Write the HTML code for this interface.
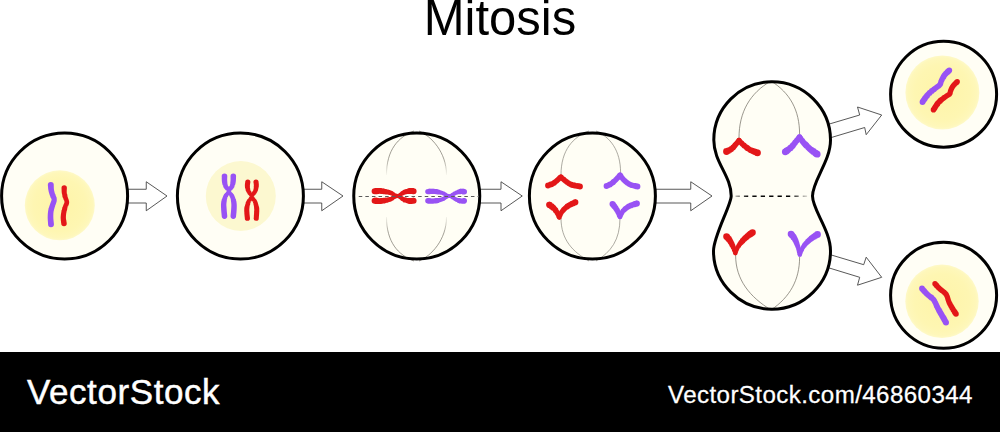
<!DOCTYPE html>
<html><head><meta charset="utf-8">
<style>
html,body{margin:0;padding:0;background:#fff;width:1000px;height:432px;overflow:hidden}
svg{display:block;position:absolute;left:0;top:0}
</style></head>
<body>
<svg width="1000" height="432" viewBox="0 0 1000 432">
<defs>
<linearGradient id="gt" gradientUnits="userSpaceOnUse" x1="0" y1="134" x2="0" y2="176">
<stop offset="0" stop-color="#6e6a60" stop-opacity="1"/><stop offset="0.6" stop-color="#6e6a60" stop-opacity="0.9"/><stop offset="1" stop-color="#6e6a60" stop-opacity="0"/>
</linearGradient>
<linearGradient id="gb" gradientUnits="userSpaceOnUse" x1="0" y1="258" x2="0" y2="215">
<stop offset="0" stop-color="#6e6a60" stop-opacity="1"/><stop offset="0.6" stop-color="#6e6a60" stop-opacity="0.9"/><stop offset="1" stop-color="#6e6a60" stop-opacity="0"/>
</linearGradient>
<radialGradient id="nuc">
<stop offset="0" stop-color="#fef4a8"/><stop offset="0.75" stop-color="#fef6b2"/><stop offset="0.93" stop-color="#fef7ba"/><stop offset="1" stop-color="#fef9c8"/>
</radialGradient>
<linearGradient id="gd" gradientUnits="userSpaceOnUse" x1="735" y1="0" x2="807" y2="0">
<stop offset="0" stop-color="#000" stop-opacity="0.25"/><stop offset="0.18" stop-color="#000" stop-opacity="0.95"/><stop offset="0.75" stop-color="#000" stop-opacity="1"/><stop offset="1" stop-color="#000" stop-opacity="0.15"/>
</linearGradient>
</defs>
<!-- title -->
<text transform="translate(0 34.7) scale(1 1.03)" x="500" y="0" text-anchor="middle" font-family="'Liberation Sans', sans-serif" font-size="49" fill="#000">Mitosis</text>

<!-- arrows -->
<g fill="#fff" stroke="#3a3a3a" stroke-width="0.85" stroke-linejoin="miter">
<path d="M125,189.25 H146.25 V181.75 L167,196 L146.25,210.75 V203 H125 Z"/>
<path d="M300,189.25 H321.75 V181.75 L343,196 L321.75,210.75 V203 H300 Z"/>
<path d="M478,189.25 H501 V181.75 L522.25,196 L501,210.75 V203 H478 Z"/>
<path d="M652,189.25 H690.75 V181.75 L712,196 L690.75,210.75 V203 H652 Z"/>
<path d="M826,125 L859.7,115 L857.5,107 L881.7,115 L866.2,134.7 L864.7,127.5 L828,138.5 Z"/>
<path d="M828,254 L863.7,264.7 L866.2,257.2 L881.7,277.3 L857.5,285.2 L859.7,277.3 L826,267 Z"/>
</g>

<!-- cell fills -->
<g stroke="none" fill="#fffef5">
<circle cx="64.6" cy="196" r="63"/>
<circle cx="240.4" cy="196" r="63"/>
<circle cx="416.75" cy="196" r="63"/>
<circle cx="592.4" cy="196" r="63"/>
<circle cx="943.6" cy="94.2" r="53"/>
<circle cx="943.6" cy="295.3" r="53"/>
<path d="M772,81.8 C804,81.8 830.5,108 830.5,140 C830.5,161.5 812.5,180.5 812.5,196 C812.5,210 830.5,230 830.5,251 C830.5,283 804,309.2 772,309.2 C740,309.2 713.5,283 713.5,251 C713.5,236 731.2,205 731.2,196 C731.2,175.5 713.8,162.5 713.8,140 C713.8,108 740,81.8 772,81.8 Z"/>
</g>

<!-- nuclei -->
<g fill="url(#nuc)">
<circle cx="59.8" cy="205.3" r="35"/>
<circle cx="240.8" cy="196" r="35" fill="#fcf8d0"/>
<circle cx="942.4" cy="92.5" r="37"/>
<circle cx="942" cy="301.3" r="36.7"/>
</g>

<!-- spindles -->
<g fill="none" stroke-width="0.7">
<path stroke="url(#gt)" d="M414,131 C398,137 386.5,150 386.5,175 M419,131 C431,136 446.5,152 446.5,175"/>
<path stroke="url(#gb)" d="M414,261 C398,255 386.5,242 386.5,217 M419,261 C431,256 446.5,240 446.5,217"/>
</g>
<g fill="none" stroke="#8a867e" stroke-width="0.7">
<path d="M589,131 C573,137 561,150 561,175 M596,131 C610,137 620.6,150 620.6,173"/>
<path d="M561,218 C561,240 573,252 589,261 M620,218 C620,240 611,252 596,261"/>
</g>
<g fill="none" stroke="#6e6a60" stroke-width="0.7">
<path d="M771,81 C750,93 739,112 739,138 M771,81 C790,93 799.6,110 799.6,134.5"/>
<path d="M735.6,255 C735.6,280 750,297 771,310 M799.6,257 C799.6,280 790,297 771,310"/>
</g>

<!-- cell strokes -->
<g stroke="#000" stroke-width="3" fill="none">
<circle cx="64.6" cy="196" r="63"/>
<circle cx="240.4" cy="196" r="63"/>
<circle cx="416.75" cy="196" r="63"/>
<circle cx="592.4" cy="196" r="63"/>
<circle cx="943.6" cy="94.2" r="53"/>
<circle cx="943.6" cy="295.3" r="53"/>
<path d="M772,81.8 C804,81.8 830.5,108 830.5,140 C830.5,161.5 812.5,180.5 812.5,196 C812.5,210 830.5,230 830.5,251 C830.5,283 804,309.2 772,309.2 C740,309.2 713.5,283 713.5,251 C713.5,236 731.2,205 731.2,196 C731.2,175.5 713.8,162.5 713.8,140 C713.8,108 740,81.8 772,81.8 Z"/>
</g>

<!-- dashed lines -->

<path fill="#9852f4" d="M47.80 185.00a3.00 3.00 0 1 0 6.00 0a3.00 3.00 0 1 0 -6.00 0M47.86 185.46a2.97 2.97 0 1 0 5.94 0a2.97 2.97 0 1 0 -5.94 0M47.92 186.08a2.94 2.94 0 1 0 5.89 0a2.94 2.94 0 1 0 -5.89 0M47.99 186.82a2.91 2.91 0 1 0 5.83 0a2.91 2.91 0 1 0 -5.83 0M48.07 187.63a2.89 2.89 0 1 0 5.77 0a2.89 2.89 0 1 0 -5.77 0M48.16 188.46a2.86 2.86 0 1 0 5.71 0a2.86 2.86 0 1 0 -5.71 0M48.27 189.27a2.83 2.83 0 1 0 5.66 0a2.83 2.83 0 1 0 -5.66 0M48.40 190.00a2.80 2.80 0 1 0 5.60 0a2.80 2.80 0 1 0 -5.60 0M48.57 190.77a2.77 2.77 0 1 0 5.55 0a2.77 2.77 0 1 0 -5.55 0M48.77 191.52a2.75 2.75 0 1 0 5.50 0a2.75 2.75 0 1 0 -5.50 0M48.99 192.25a2.72 2.72 0 1 0 5.45 0a2.72 2.72 0 1 0 -5.45 0M49.23 192.98a2.70 2.70 0 1 0 5.40 0a2.70 2.70 0 1 0 -5.40 0M49.48 193.73a2.67 2.67 0 1 0 5.35 0a2.67 2.67 0 1 0 -5.35 0M49.75 194.50a2.65 2.65 0 1 0 5.30 0a2.65 2.65 0 1 0 -5.30 0M50.01 195.18a2.64 2.64 0 1 0 5.29 0a2.64 2.64 0 1 0 -5.29 0M50.33 195.88a2.64 2.64 0 1 0 5.27 0a2.64 2.64 0 1 0 -5.27 0M50.68 196.58a2.63 2.63 0 1 0 5.26 0a2.63 2.63 0 1 0 -5.26 0M51.01 197.30a2.62 2.62 0 1 0 5.24 0a2.62 2.62 0 1 0 -5.24 0M51.30 198.02a2.61 2.61 0 1 0 5.23 0a2.61 2.61 0 1 0 -5.23 0M51.51 198.76a2.61 2.61 0 1 0 5.21 0a2.61 2.61 0 1 0 -5.21 0M51.60 199.50a2.60 2.60 0 1 0 5.20 0a2.60 2.60 0 1 0 -5.20 0M51.56 200.16a2.61 2.61 0 1 0 5.21 0a2.61 2.61 0 1 0 -5.21 0M51.43 200.84a2.61 2.61 0 1 0 5.22 0a2.61 2.61 0 1 0 -5.22 0M51.23 201.53a2.62 2.62 0 1 0 5.24 0a2.62 2.62 0 1 0 -5.24 0M50.99 202.22a2.62 2.62 0 1 0 5.25 0a2.62 2.62 0 1 0 -5.25 0M50.72 202.92a2.63 2.63 0 1 0 5.26 0a2.63 2.63 0 1 0 -5.26 0M50.44 203.61a2.64 2.64 0 1 0 5.28 0a2.64 2.64 0 1 0 -5.28 0M50.18 204.31a2.64 2.64 0 1 0 5.29 0a2.64 2.64 0 1 0 -5.29 0M49.95 205.00a2.65 2.65 0 1 0 5.30 0a2.65 2.65 0 1 0 -5.30 0M49.73 205.68a2.66 2.66 0 1 0 5.33 0a2.66 2.66 0 1 0 -5.33 0M49.50 206.35a2.67 2.67 0 1 0 5.35 0a2.67 2.67 0 1 0 -5.35 0M49.26 207.02a2.69 2.69 0 1 0 5.38 0a2.69 2.69 0 1 0 -5.38 0M49.03 207.69a2.70 2.70 0 1 0 5.40 0a2.70 2.70 0 1 0 -5.40 0M48.81 208.36a2.71 2.71 0 1 0 5.42 0a2.71 2.71 0 1 0 -5.42 0M48.60 209.05a2.73 2.73 0 1 0 5.45 0a2.73 2.73 0 1 0 -5.45 0M48.41 209.76a2.74 2.74 0 1 0 5.47 0a2.74 2.74 0 1 0 -5.47 0M48.25 210.50a2.75 2.75 0 1 0 5.50 0a2.75 2.75 0 1 0 -5.50 0M48.13 211.17a2.76 2.76 0 1 0 5.52 0a2.76 2.76 0 1 0 -5.52 0M48.02 211.86a2.77 2.77 0 1 0 5.54 0a2.77 2.77 0 1 0 -5.54 0M47.93 212.57a2.78 2.78 0 1 0 5.57 0a2.78 2.78 0 1 0 -5.57 0M47.85 213.28a2.79 2.79 0 1 0 5.59 0a2.79 2.79 0 1 0 -5.59 0M47.79 214.01a2.81 2.81 0 1 0 5.61 0a2.81 2.81 0 1 0 -5.61 0M47.74 214.74a2.82 2.82 0 1 0 5.63 0a2.82 2.82 0 1 0 -5.63 0M47.69 215.49a2.83 2.83 0 1 0 5.66 0a2.83 2.83 0 1 0 -5.66 0M47.67 216.24a2.84 2.84 0 1 0 5.68 0a2.84 2.84 0 1 0 -5.68 0M47.65 217.00a2.85 2.85 0 1 0 5.70 0a2.85 2.85 0 1 0 -5.70 0M47.65 217.72a2.86 2.86 0 1 0 5.72 0a2.86 2.86 0 1 0 -5.72 0M47.67 218.51a2.87 2.87 0 1 0 5.74 0a2.87 2.87 0 1 0 -5.74 0M47.71 219.34a2.88 2.88 0 1 0 5.76 0a2.88 2.88 0 1 0 -5.76 0M47.76 220.18a2.89 2.89 0 1 0 5.78 0a2.89 2.89 0 1 0 -5.78 0M47.82 221.01a2.90 2.90 0 1 0 5.80 0a2.90 2.90 0 1 0 -5.80 0M47.88 221.80a2.91 2.91 0 1 0 5.82 0a2.91 2.91 0 1 0 -5.82 0M47.94 222.55a2.92 2.92 0 1 0 5.84 0a2.92 2.92 0 1 0 -5.84 0M47.99 223.21a2.93 2.93 0 1 0 5.86 0a2.93 2.93 0 1 0 -5.86 0M48.03 223.77a2.94 2.94 0 1 0 5.88 0a2.94 2.94 0 1 0 -5.88 0M48.05 224.20a2.95 2.95 0 1 0 5.90 0a2.95 2.95 0 1 0 -5.90 0"/>
<path fill="#e31718" d="M61.50 188.00a2.70 2.70 0 1 0 5.40 0a2.70 2.70 0 1 0 -5.40 0M61.53 188.46a2.67 2.67 0 1 0 5.34 0a2.67 2.67 0 1 0 -5.34 0M61.55 189.08a2.64 2.64 0 1 0 5.29 0a2.64 2.64 0 1 0 -5.29 0M61.57 189.82a2.61 2.61 0 1 0 5.23 0a2.61 2.61 0 1 0 -5.23 0M61.60 190.63a2.59 2.59 0 1 0 5.17 0a2.59 2.59 0 1 0 -5.17 0M61.64 191.46a2.56 2.56 0 1 0 5.11 0a2.56 2.56 0 1 0 -5.11 0M61.70 192.27a2.53 2.53 0 1 0 5.06 0a2.53 2.53 0 1 0 -5.06 0M61.80 193.00a2.50 2.50 0 1 0 5.00 0a2.50 2.50 0 1 0 -5.00 0M61.93 193.77a2.49 2.49 0 1 0 4.98 0a2.49 2.49 0 1 0 -4.98 0M62.10 194.52a2.48 2.48 0 1 0 4.97 0a2.48 2.48 0 1 0 -4.97 0M62.29 195.25a2.48 2.48 0 1 0 4.95 0a2.48 2.48 0 1 0 -4.95 0M62.51 195.98a2.47 2.47 0 1 0 4.93 0a2.47 2.47 0 1 0 -4.93 0M62.73 196.73a2.46 2.46 0 1 0 4.92 0a2.46 2.46 0 1 0 -4.92 0M62.95 197.50a2.45 2.45 0 1 0 4.90 0a2.45 2.45 0 1 0 -4.90 0M63.16 198.19a2.45 2.45 0 1 0 4.90 0a2.45 2.45 0 1 0 -4.90 0M63.42 198.91a2.45 2.45 0 1 0 4.90 0a2.45 2.45 0 1 0 -4.90 0M63.69 199.63a2.45 2.45 0 1 0 4.90 0a2.45 2.45 0 1 0 -4.90 0M63.94 200.37a2.45 2.45 0 1 0 4.90 0a2.45 2.45 0 1 0 -4.90 0M64.16 201.09a2.45 2.45 0 1 0 4.90 0a2.45 2.45 0 1 0 -4.90 0M64.30 201.81a2.45 2.45 0 1 0 4.90 0a2.45 2.45 0 1 0 -4.90 0M64.35 202.50a2.45 2.45 0 1 0 4.90 0a2.45 2.45 0 1 0 -4.90 0M64.25 203.27a2.45 2.45 0 1 0 4.90 0a2.45 2.45 0 1 0 -4.90 0M64.03 204.00a2.45 2.45 0 1 0 4.90 0a2.45 2.45 0 1 0 -4.90 0M63.73 204.72a2.45 2.45 0 1 0 4.90 0a2.45 2.45 0 1 0 -4.90 0M63.38 205.44a2.45 2.45 0 1 0 4.90 0a2.45 2.45 0 1 0 -4.90 0M63.04 206.20a2.45 2.45 0 1 0 4.90 0a2.45 2.45 0 1 0 -4.90 0M62.75 207.00a2.45 2.45 0 1 0 4.90 0a2.45 2.45 0 1 0 -4.90 0M62.55 207.64a2.46 2.46 0 1 0 4.93 0a2.46 2.46 0 1 0 -4.93 0M62.34 208.30a2.48 2.48 0 1 0 4.95 0a2.48 2.48 0 1 0 -4.95 0M62.13 208.99a2.49 2.49 0 1 0 4.97 0a2.49 2.49 0 1 0 -4.97 0M61.93 209.69a2.50 2.50 0 1 0 5.00 0a2.50 2.50 0 1 0 -5.00 0M61.74 210.39a2.51 2.51 0 1 0 5.03 0a2.51 2.51 0 1 0 -5.03 0M61.56 211.10a2.52 2.52 0 1 0 5.05 0a2.52 2.52 0 1 0 -5.05 0M61.39 211.81a2.54 2.54 0 1 0 5.07 0a2.54 2.54 0 1 0 -5.07 0M61.25 212.50a2.55 2.55 0 1 0 5.10 0a2.55 2.55 0 1 0 -5.10 0M61.11 213.29a2.56 2.56 0 1 0 5.13 0a2.56 2.56 0 1 0 -5.13 0M60.98 214.07a2.58 2.58 0 1 0 5.16 0a2.58 2.58 0 1 0 -5.16 0M60.87 214.86a2.59 2.59 0 1 0 5.19 0a2.59 2.59 0 1 0 -5.19 0M60.78 215.65a2.61 2.61 0 1 0 5.21 0a2.61 2.61 0 1 0 -5.21 0M60.71 216.44a2.62 2.62 0 1 0 5.24 0a2.62 2.62 0 1 0 -5.24 0M60.66 217.22a2.64 2.64 0 1 0 5.27 0a2.64 2.64 0 1 0 -5.27 0M60.65 218.00a2.65 2.65 0 1 0 5.30 0a2.65 2.65 0 1 0 -5.30 0M60.68 218.82a2.66 2.66 0 1 0 5.33 0a2.66 2.66 0 1 0 -5.33 0M60.75 219.71a2.68 2.68 0 1 0 5.36 0a2.68 2.68 0 1 0 -5.36 0M60.86 220.60a2.69 2.69 0 1 0 5.39 0a2.69 2.69 0 1 0 -5.39 0M60.98 221.47a2.71 2.71 0 1 0 5.41 0a2.71 2.71 0 1 0 -5.41 0M61.09 222.25a2.72 2.72 0 1 0 5.44 0a2.72 2.72 0 1 0 -5.44 0M61.19 222.91a2.74 2.74 0 1 0 5.47 0a2.74 2.74 0 1 0 -5.47 0M61.25 223.40a2.75 2.75 0 1 0 5.50 0a2.75 2.75 0 1 0 -5.50 0"/>
<path fill="#9852f4" d="M221.70 176.30a2.80 2.80 0 1 0 5.60 0a2.80 2.80 0 1 0 -5.60 0M221.71 176.77a2.79 2.79 0 1 0 5.57 0a2.79 2.79 0 1 0 -5.57 0M221.72 177.41a2.77 2.77 0 1 0 5.54 0a2.77 2.77 0 1 0 -5.54 0M221.72 178.18a2.76 2.76 0 1 0 5.51 0a2.76 2.76 0 1 0 -5.51 0M221.73 179.01a2.74 2.74 0 1 0 5.49 0a2.74 2.74 0 1 0 -5.49 0M221.76 179.88a2.73 2.73 0 1 0 5.46 0a2.73 2.73 0 1 0 -5.46 0M221.81 180.72a2.71 2.71 0 1 0 5.43 0a2.71 2.71 0 1 0 -5.43 0M221.90 181.50a2.70 2.70 0 1 0 5.40 0a2.70 2.70 0 1 0 -5.40 0M222.06 182.23a2.64 2.64 0 1 0 5.29 0a2.64 2.64 0 1 0 -5.29 0M222.22 182.95a2.59 2.59 0 1 0 5.17 0a2.59 2.59 0 1 0 -5.17 0M222.41 183.68a2.53 2.53 0 1 0 5.06 0a2.53 2.53 0 1 0 -5.06 0M222.63 184.40a2.47 2.47 0 1 0 4.94 0a2.47 2.47 0 1 0 -4.94 0M222.88 185.11a2.41 2.41 0 1 0 4.83 0a2.41 2.41 0 1 0 -4.83 0M223.17 185.81a2.36 2.36 0 1 0 4.71 0a2.36 2.36 0 1 0 -4.71 0M223.50 186.50a2.30 2.30 0 1 0 4.60 0a2.30 2.30 0 1 0 -4.60 0M223.96 187.17a2.23 2.23 0 1 0 4.46 0a2.23 2.23 0 1 0 -4.46 0M224.55 187.82a2.16 2.16 0 1 0 4.31 0a2.16 2.16 0 1 0 -4.31 0M225.20 188.46a2.09 2.09 0 1 0 4.17 0a2.09 2.09 0 1 0 -4.17 0M225.85 189.09a2.01 2.01 0 1 0 4.03 0a2.01 2.01 0 1 0 -4.03 0M226.41 189.74a1.94 1.94 0 1 0 3.89 0a1.94 1.94 0 1 0 -3.89 0M226.81 190.40a1.87 1.87 0 1 0 3.74 0a1.87 1.87 0 1 0 -3.74 0M227.00 191.10a1.80 1.80 0 1 0 3.60 0a1.80 1.80 0 1 0 -3.60 0M226.85 191.66a1.86 1.86 0 1 0 3.71 0a1.86 1.86 0 1 0 -3.71 0M226.55 192.23a1.91 1.91 0 1 0 3.82 0a1.91 1.91 0 1 0 -3.82 0M226.14 192.80a1.97 1.97 0 1 0 3.93 0a1.97 1.97 0 1 0 -3.93 0M225.66 193.38a2.02 2.02 0 1 0 4.04 0a2.02 2.02 0 1 0 -4.04 0M225.12 193.98a2.08 2.08 0 1 0 4.16 0a2.08 2.08 0 1 0 -4.16 0M224.58 194.59a2.13 2.13 0 1 0 4.27 0a2.13 2.13 0 1 0 -4.27 0M224.06 195.21a2.19 2.19 0 1 0 4.38 0a2.19 2.19 0 1 0 -4.38 0M223.59 195.85a2.24 2.24 0 1 0 4.49 0a2.24 2.24 0 1 0 -4.49 0M223.20 196.50a2.30 2.30 0 1 0 4.60 0a2.30 2.30 0 1 0 -4.60 0M222.89 197.17a2.34 2.34 0 1 0 4.69 0a2.34 2.34 0 1 0 -4.69 0M222.59 197.87a2.39 2.39 0 1 0 4.78 0a2.39 2.39 0 1 0 -4.78 0M222.31 198.59a2.43 2.43 0 1 0 4.87 0a2.43 2.43 0 1 0 -4.87 0M222.06 199.31a2.48 2.48 0 1 0 4.96 0a2.48 2.48 0 1 0 -4.96 0M221.82 200.05a2.52 2.52 0 1 0 5.04 0a2.52 2.52 0 1 0 -5.04 0M221.61 200.79a2.57 2.57 0 1 0 5.13 0a2.57 2.57 0 1 0 -5.13 0M221.41 201.53a2.61 2.61 0 1 0 5.22 0a2.61 2.61 0 1 0 -5.22 0M221.25 202.27a2.66 2.66 0 1 0 5.31 0a2.66 2.66 0 1 0 -5.31 0M221.10 203.00a2.70 2.70 0 1 0 5.40 0a2.70 2.70 0 1 0 -5.40 0M221.02 203.72a2.71 2.71 0 1 0 5.42 0a2.71 2.71 0 1 0 -5.42 0M220.97 204.44a2.72 2.72 0 1 0 5.44 0a2.72 2.72 0 1 0 -5.44 0M220.95 205.16a2.73 2.73 0 1 0 5.47 0a2.73 2.73 0 1 0 -5.47 0M220.95 205.88a2.74 2.74 0 1 0 5.49 0a2.74 2.74 0 1 0 -5.49 0M220.97 206.60a2.76 2.76 0 1 0 5.51 0a2.76 2.76 0 1 0 -5.51 0M221.00 207.33a2.77 2.77 0 1 0 5.53 0a2.77 2.77 0 1 0 -5.53 0M221.03 208.05a2.78 2.78 0 1 0 5.56 0a2.78 2.78 0 1 0 -5.56 0M221.07 208.77a2.79 2.79 0 1 0 5.58 0a2.79 2.79 0 1 0 -5.58 0M221.10 209.50a2.80 2.80 0 1 0 5.60 0a2.80 2.80 0 1 0 -5.60 0M221.15 210.27a2.80 2.80 0 1 0 5.60 0a2.80 2.80 0 1 0 -5.60 0M221.21 211.09a2.80 2.80 0 1 0 5.60 0a2.80 2.80 0 1 0 -5.60 0M221.29 211.94a2.80 2.80 0 1 0 5.60 0a2.80 2.80 0 1 0 -5.60 0M221.37 212.79a2.80 2.80 0 1 0 5.60 0a2.80 2.80 0 1 0 -5.60 0M221.45 213.61a2.80 2.80 0 1 0 5.60 0a2.80 2.80 0 1 0 -5.60 0M221.53 214.39a2.80 2.80 0 1 0 5.60 0a2.80 2.80 0 1 0 -5.60 0M221.60 215.08a2.80 2.80 0 1 0 5.60 0a2.80 2.80 0 1 0 -5.60 0M221.66 215.66a2.80 2.80 0 1 0 5.60 0a2.80 2.80 0 1 0 -5.60 0M221.70 216.10a2.80 2.80 0 1 0 5.60 0a2.80 2.80 0 1 0 -5.60 0"/>
<path fill="#9852f4" d="M230.50 176.30a2.80 2.80 0 1 0 5.60 0a2.80 2.80 0 1 0 -5.60 0M230.50 176.77a2.79 2.79 0 1 0 5.57 0a2.79 2.79 0 1 0 -5.57 0M230.52 177.41a2.77 2.77 0 1 0 5.54 0a2.77 2.77 0 1 0 -5.54 0M230.52 178.18a2.76 2.76 0 1 0 5.51 0a2.76 2.76 0 1 0 -5.51 0M230.52 179.01a2.74 2.74 0 1 0 5.49 0a2.74 2.74 0 1 0 -5.49 0M230.51 179.88a2.73 2.73 0 1 0 5.46 0a2.73 2.73 0 1 0 -5.46 0M230.47 180.72a2.71 2.71 0 1 0 5.43 0a2.71 2.71 0 1 0 -5.43 0M230.40 181.50a2.70 2.70 0 1 0 5.40 0a2.70 2.70 0 1 0 -5.40 0M230.35 182.23a2.64 2.64 0 1 0 5.29 0a2.64 2.64 0 1 0 -5.29 0M230.29 182.95a2.59 2.59 0 1 0 5.17 0a2.59 2.59 0 1 0 -5.17 0M230.22 183.68a2.53 2.53 0 1 0 5.06 0a2.53 2.53 0 1 0 -5.06 0M230.11 184.40a2.47 2.47 0 1 0 4.94 0a2.47 2.47 0 1 0 -4.94 0M229.98 185.11a2.41 2.41 0 1 0 4.83 0a2.41 2.41 0 1 0 -4.83 0M229.81 185.81a2.36 2.36 0 1 0 4.71 0a2.36 2.36 0 1 0 -4.71 0M229.60 186.50a2.30 2.30 0 1 0 4.60 0a2.30 2.30 0 1 0 -4.60 0M229.29 187.17a2.23 2.23 0 1 0 4.46 0a2.23 2.23 0 1 0 -4.46 0M228.86 187.82a2.16 2.16 0 1 0 4.31 0a2.16 2.16 0 1 0 -4.31 0M228.37 188.46a2.09 2.09 0 1 0 4.17 0a2.09 2.09 0 1 0 -4.17 0M227.89 189.09a2.01 2.01 0 1 0 4.03 0a2.01 2.01 0 1 0 -4.03 0M227.49 189.74a1.94 1.94 0 1 0 3.89 0a1.94 1.94 0 1 0 -3.89 0M227.24 190.40a1.87 1.87 0 1 0 3.74 0a1.87 1.87 0 1 0 -3.74 0M227.20 191.10a1.80 1.80 0 1 0 3.60 0a1.80 1.80 0 1 0 -3.60 0M227.26 191.73a1.86 1.86 0 1 0 3.73 0a1.86 1.86 0 1 0 -3.73 0M227.48 192.37a1.93 1.93 0 1 0 3.85 0a1.93 1.93 0 1 0 -3.85 0M227.83 193.02a1.99 1.99 0 1 0 3.98 0a1.99 1.99 0 1 0 -3.98 0M228.26 193.68a2.05 2.05 0 1 0 4.10 0a2.05 2.05 0 1 0 -4.10 0M228.73 194.36a2.11 2.11 0 1 0 4.22 0a2.11 2.11 0 1 0 -4.22 0M229.19 195.05a2.17 2.17 0 1 0 4.35 0a2.17 2.17 0 1 0 -4.35 0M229.59 195.77a2.24 2.24 0 1 0 4.47 0a2.24 2.24 0 1 0 -4.47 0M229.90 196.50a2.30 2.30 0 1 0 4.60 0a2.30 2.30 0 1 0 -4.60 0M230.12 197.17a2.34 2.34 0 1 0 4.69 0a2.34 2.34 0 1 0 -4.69 0M230.32 197.87a2.39 2.39 0 1 0 4.78 0a2.39 2.39 0 1 0 -4.78 0M230.51 198.59a2.43 2.43 0 1 0 4.87 0a2.43 2.43 0 1 0 -4.87 0M230.67 199.31a2.48 2.48 0 1 0 4.96 0a2.48 2.48 0 1 0 -4.96 0M230.82 200.05a2.52 2.52 0 1 0 5.04 0a2.52 2.52 0 1 0 -5.04 0M230.95 200.79a2.57 2.57 0 1 0 5.13 0a2.57 2.57 0 1 0 -5.13 0M231.05 201.53a2.61 2.61 0 1 0 5.22 0a2.61 2.61 0 1 0 -5.22 0M231.14 202.27a2.66 2.66 0 1 0 5.31 0a2.66 2.66 0 1 0 -5.31 0M231.20 203.00a2.70 2.70 0 1 0 5.40 0a2.70 2.70 0 1 0 -5.40 0M231.27 203.72a2.71 2.71 0 1 0 5.42 0a2.71 2.71 0 1 0 -5.42 0M231.30 204.44a2.72 2.72 0 1 0 5.44 0a2.72 2.72 0 1 0 -5.44 0M231.31 205.16a2.73 2.73 0 1 0 5.47 0a2.73 2.73 0 1 0 -5.47 0M231.31 205.88a2.74 2.74 0 1 0 5.49 0a2.74 2.74 0 1 0 -5.49 0M231.28 206.60a2.76 2.76 0 1 0 5.51 0a2.76 2.76 0 1 0 -5.51 0M231.24 207.33a2.77 2.77 0 1 0 5.53 0a2.77 2.77 0 1 0 -5.53 0M231.20 208.05a2.78 2.78 0 1 0 5.56 0a2.78 2.78 0 1 0 -5.56 0M231.15 208.77a2.79 2.79 0 1 0 5.58 0a2.79 2.79 0 1 0 -5.58 0M231.10 209.50a2.80 2.80 0 1 0 5.60 0a2.80 2.80 0 1 0 -5.60 0M231.06 210.27a2.80 2.80 0 1 0 5.60 0a2.80 2.80 0 1 0 -5.60 0M231.00 211.09a2.80 2.80 0 1 0 5.60 0a2.80 2.80 0 1 0 -5.60 0M230.92 211.94a2.80 2.80 0 1 0 5.60 0a2.80 2.80 0 1 0 -5.60 0M230.84 212.79a2.80 2.80 0 1 0 5.60 0a2.80 2.80 0 1 0 -5.60 0M230.76 213.61a2.80 2.80 0 1 0 5.60 0a2.80 2.80 0 1 0 -5.60 0M230.68 214.39a2.80 2.80 0 1 0 5.60 0a2.80 2.80 0 1 0 -5.60 0M230.60 215.08a2.80 2.80 0 1 0 5.60 0a2.80 2.80 0 1 0 -5.60 0M230.54 215.66a2.80 2.80 0 1 0 5.60 0a2.80 2.80 0 1 0 -5.60 0M230.50 216.10a2.80 2.80 0 1 0 5.60 0a2.80 2.80 0 1 0 -5.60 0"/>
<path fill="#e31718" d="M245.20 182.00a2.60 2.60 0 1 0 5.20 0a2.60 2.60 0 1 0 -5.20 0M245.13 182.53a2.59 2.59 0 1 0 5.18 0a2.59 2.59 0 1 0 -5.18 0M245.02 183.26a2.58 2.58 0 1 0 5.16 0a2.58 2.58 0 1 0 -5.16 0M244.91 184.14a2.57 2.57 0 1 0 5.14 0a2.57 2.57 0 1 0 -5.14 0M244.84 185.07a2.56 2.56 0 1 0 5.12 0a2.56 2.56 0 1 0 -5.12 0M244.85 186.00a2.55 2.55 0 1 0 5.10 0a2.55 2.55 0 1 0 -5.10 0M244.94 186.66a2.51 2.51 0 1 0 5.01 0a2.51 2.51 0 1 0 -5.01 0M245.06 187.34a2.46 2.46 0 1 0 4.93 0a2.46 2.46 0 1 0 -4.93 0M245.20 188.04a2.42 2.42 0 1 0 4.84 0a2.42 2.42 0 1 0 -4.84 0M245.38 188.76a2.38 2.38 0 1 0 4.76 0a2.38 2.38 0 1 0 -4.76 0M245.59 189.50a2.34 2.34 0 1 0 4.67 0a2.34 2.34 0 1 0 -4.67 0M245.85 190.25a2.29 2.29 0 1 0 4.59 0a2.29 2.29 0 1 0 -4.59 0M246.15 191.00a2.25 2.25 0 1 0 4.50 0a2.25 2.25 0 1 0 -4.50 0M246.49 191.60a2.19 2.19 0 1 0 4.38 0a2.19 2.19 0 1 0 -4.38 0M246.92 192.21a2.13 2.13 0 1 0 4.26 0a2.13 2.13 0 1 0 -4.26 0M247.40 192.83a2.07 2.07 0 1 0 4.13 0a2.07 2.07 0 1 0 -4.13 0M247.91 193.46a2.01 2.01 0 1 0 4.01 0a2.01 2.01 0 1 0 -4.01 0M248.42 194.09a1.94 1.94 0 1 0 3.89 0a1.94 1.94 0 1 0 -3.89 0M248.88 194.73a1.88 1.88 0 1 0 3.77 0a1.88 1.88 0 1 0 -3.77 0M249.27 195.36a1.82 1.82 0 1 0 3.64 0a1.82 1.82 0 1 0 -3.64 0M249.55 195.98a1.76 1.76 0 1 0 3.52 0a1.76 1.76 0 1 0 -3.52 0M249.70 196.60a1.70 1.70 0 1 0 3.40 0a1.70 1.70 0 1 0 -3.40 0M249.54 197.28a1.77 1.77 0 1 0 3.54 0a1.77 1.77 0 1 0 -3.54 0M249.22 197.95a1.84 1.84 0 1 0 3.67 0a1.84 1.84 0 1 0 -3.67 0M248.78 198.61a1.91 1.91 0 1 0 3.81 0a1.91 1.91 0 1 0 -3.81 0M248.26 199.27a1.98 1.98 0 1 0 3.95 0a1.98 1.98 0 1 0 -3.95 0M247.71 199.94a2.04 2.04 0 1 0 4.09 0a2.04 2.04 0 1 0 -4.09 0M247.16 200.61a2.11 2.11 0 1 0 4.22 0a2.11 2.11 0 1 0 -4.22 0M246.66 201.30a2.18 2.18 0 1 0 4.36 0a2.18 2.18 0 1 0 -4.36 0M246.25 202.00a2.25 2.25 0 1 0 4.50 0a2.25 2.25 0 1 0 -4.50 0M245.94 202.73a2.29 2.29 0 1 0 4.58 0a2.29 2.29 0 1 0 -4.58 0M245.65 203.48a2.33 2.33 0 1 0 4.65 0a2.33 2.33 0 1 0 -4.65 0M245.37 204.25a2.36 2.36 0 1 0 4.72 0a2.36 2.36 0 1 0 -4.72 0M245.12 205.03a2.40 2.40 0 1 0 4.80 0a2.40 2.40 0 1 0 -4.80 0M244.89 205.80a2.44 2.44 0 1 0 4.88 0a2.44 2.44 0 1 0 -4.88 0M244.68 206.56a2.47 2.47 0 1 0 4.95 0a2.47 2.47 0 1 0 -4.95 0M244.50 207.29a2.51 2.51 0 1 0 5.02 0a2.51 2.51 0 1 0 -5.02 0M244.35 208.00a2.55 2.55 0 1 0 5.10 0a2.55 2.55 0 1 0 -5.10 0M244.25 208.77a2.56 2.56 0 1 0 5.11 0a2.56 2.56 0 1 0 -5.11 0M244.20 209.50a2.56 2.56 0 1 0 5.13 0a2.56 2.56 0 1 0 -5.13 0M244.19 210.20a2.57 2.57 0 1 0 5.14 0a2.57 2.57 0 1 0 -5.14 0M244.20 210.90a2.58 2.58 0 1 0 5.16 0a2.58 2.58 0 1 0 -5.16 0M244.23 211.59a2.59 2.59 0 1 0 5.17 0a2.59 2.59 0 1 0 -5.17 0M244.27 212.28a2.59 2.59 0 1 0 5.19 0a2.59 2.59 0 1 0 -5.19 0M244.30 213.00a2.60 2.60 0 1 0 5.20 0a2.60 2.60 0 1 0 -5.20 0M244.35 213.78a2.60 2.60 0 1 0 5.20 0a2.60 2.60 0 1 0 -5.20 0M244.42 214.62a2.60 2.60 0 1 0 5.20 0a2.60 2.60 0 1 0 -5.20 0M244.51 215.49a2.60 2.60 0 1 0 5.20 0a2.60 2.60 0 1 0 -5.20 0M244.59 216.32a2.60 2.60 0 1 0 5.20 0a2.60 2.60 0 1 0 -5.20 0M244.68 217.09a2.60 2.60 0 1 0 5.20 0a2.60 2.60 0 1 0 -5.20 0M244.75 217.73a2.60 2.60 0 1 0 5.20 0a2.60 2.60 0 1 0 -5.20 0M244.80 218.20a2.60 2.60 0 1 0 5.20 0a2.60 2.60 0 1 0 -5.20 0"/>
<path fill="#e31718" d="M253.40 182.00a2.60 2.60 0 1 0 5.20 0a2.60 2.60 0 1 0 -5.20 0M253.47 182.53a2.59 2.59 0 1 0 5.18 0a2.59 2.59 0 1 0 -5.18 0M253.58 183.26a2.58 2.58 0 1 0 5.16 0a2.58 2.58 0 1 0 -5.16 0M253.69 184.14a2.57 2.57 0 1 0 5.14 0a2.57 2.57 0 1 0 -5.14 0M253.76 185.07a2.56 2.56 0 1 0 5.12 0a2.56 2.56 0 1 0 -5.12 0M253.75 186.00a2.55 2.55 0 1 0 5.10 0a2.55 2.55 0 1 0 -5.10 0M253.74 186.66a2.51 2.51 0 1 0 5.01 0a2.51 2.51 0 1 0 -5.01 0M253.71 187.34a2.46 2.46 0 1 0 4.93 0a2.46 2.46 0 1 0 -4.93 0M253.65 188.04a2.42 2.42 0 1 0 4.84 0a2.42 2.42 0 1 0 -4.84 0M253.57 188.76a2.38 2.38 0 1 0 4.76 0a2.38 2.38 0 1 0 -4.76 0M253.44 189.50a2.34 2.34 0 1 0 4.67 0a2.34 2.34 0 1 0 -4.67 0M253.27 190.25a2.29 2.29 0 1 0 4.59 0a2.29 2.29 0 1 0 -4.59 0M253.05 191.00a2.25 2.25 0 1 0 4.50 0a2.25 2.25 0 1 0 -4.50 0M252.83 191.60a2.19 2.19 0 1 0 4.38 0a2.19 2.19 0 1 0 -4.38 0M252.51 192.21a2.13 2.13 0 1 0 4.26 0a2.13 2.13 0 1 0 -4.26 0M252.13 192.83a2.07 2.07 0 1 0 4.13 0a2.07 2.07 0 1 0 -4.13 0M251.73 193.46a2.01 2.01 0 1 0 4.01 0a2.01 2.01 0 1 0 -4.01 0M251.34 194.09a1.94 1.94 0 1 0 3.89 0a1.94 1.94 0 1 0 -3.89 0M250.98 194.73a1.88 1.88 0 1 0 3.77 0a1.88 1.88 0 1 0 -3.77 0M250.70 195.36a1.82 1.82 0 1 0 3.64 0a1.82 1.82 0 1 0 -3.64 0M250.53 195.98a1.76 1.76 0 1 0 3.52 0a1.76 1.76 0 1 0 -3.52 0M250.50 196.60a1.70 1.70 0 1 0 3.40 0a1.70 1.70 0 1 0 -3.40 0M250.52 197.28a1.77 1.77 0 1 0 3.54 0a1.77 1.77 0 1 0 -3.54 0M250.70 197.95a1.84 1.84 0 1 0 3.67 0a1.84 1.84 0 1 0 -3.67 0M251.00 198.61a1.91 1.91 0 1 0 3.81 0a1.91 1.91 0 1 0 -3.81 0M251.39 199.27a1.98 1.98 0 1 0 3.95 0a1.98 1.98 0 1 0 -3.95 0M251.81 199.94a2.04 2.04 0 1 0 4.09 0a2.04 2.04 0 1 0 -4.09 0M252.22 200.61a2.11 2.11 0 1 0 4.22 0a2.11 2.11 0 1 0 -4.22 0M252.58 201.30a2.18 2.18 0 1 0 4.36 0a2.18 2.18 0 1 0 -4.36 0M252.85 202.00a2.25 2.25 0 1 0 4.50 0a2.25 2.25 0 1 0 -4.50 0M253.08 202.73a2.29 2.29 0 1 0 4.58 0a2.29 2.29 0 1 0 -4.58 0M253.28 203.48a2.33 2.33 0 1 0 4.65 0a2.33 2.33 0 1 0 -4.65 0M253.47 204.25a2.36 2.36 0 1 0 4.72 0a2.36 2.36 0 1 0 -4.72 0M253.63 205.03a2.40 2.40 0 1 0 4.80 0a2.40 2.40 0 1 0 -4.80 0M253.77 205.80a2.44 2.44 0 1 0 4.88 0a2.44 2.44 0 1 0 -4.88 0M253.89 206.56a2.47 2.47 0 1 0 4.95 0a2.47 2.47 0 1 0 -4.95 0M253.98 207.29a2.51 2.51 0 1 0 5.02 0a2.51 2.51 0 1 0 -5.02 0M254.05 208.00a2.55 2.55 0 1 0 5.10 0a2.55 2.55 0 1 0 -5.10 0M254.13 208.77a2.56 2.56 0 1 0 5.11 0a2.56 2.56 0 1 0 -5.11 0M254.16 209.50a2.56 2.56 0 1 0 5.13 0a2.56 2.56 0 1 0 -5.13 0M254.15 210.20a2.57 2.57 0 1 0 5.14 0a2.57 2.57 0 1 0 -5.14 0M254.13 210.90a2.58 2.58 0 1 0 5.16 0a2.58 2.58 0 1 0 -5.16 0M254.09 211.59a2.59 2.59 0 1 0 5.17 0a2.59 2.59 0 1 0 -5.17 0M254.04 212.28a2.59 2.59 0 1 0 5.19 0a2.59 2.59 0 1 0 -5.19 0M254.00 213.00a2.60 2.60 0 1 0 5.20 0a2.60 2.60 0 1 0 -5.20 0M253.96 213.78a2.60 2.60 0 1 0 5.20 0a2.60 2.60 0 1 0 -5.20 0M253.90 214.62a2.60 2.60 0 1 0 5.20 0a2.60 2.60 0 1 0 -5.20 0M253.84 215.49a2.60 2.60 0 1 0 5.20 0a2.60 2.60 0 1 0 -5.20 0M253.76 216.32a2.60 2.60 0 1 0 5.20 0a2.60 2.60 0 1 0 -5.20 0M253.70 217.09a2.60 2.60 0 1 0 5.20 0a2.60 2.60 0 1 0 -5.20 0M253.64 217.73a2.60 2.60 0 1 0 5.20 0a2.60 2.60 0 1 0 -5.20 0M253.60 218.20a2.60 2.60 0 1 0 5.20 0a2.60 2.60 0 1 0 -5.20 0"/>
<path fill="#e31718" d="M371.60 191.20a3.00 3.00 0 1 0 6.00 0a3.00 3.00 0 1 0 -6.00 0M372.03 191.18a2.99 2.99 0 1 0 5.98 0a2.99 2.99 0 1 0 -5.98 0M372.56 191.13a2.98 2.98 0 1 0 5.96 0a2.98 2.98 0 1 0 -5.96 0M373.20 191.08a2.97 2.97 0 1 0 5.93 0a2.97 2.97 0 1 0 -5.93 0M373.91 191.03a2.96 2.96 0 1 0 5.91 0a2.96 2.96 0 1 0 -5.91 0M374.68 190.98a2.94 2.94 0 1 0 5.89 0a2.94 2.94 0 1 0 -5.89 0M375.50 190.94a2.93 2.93 0 1 0 5.87 0a2.93 2.93 0 1 0 -5.87 0M376.36 190.93a2.92 2.92 0 1 0 5.84 0a2.92 2.92 0 1 0 -5.84 0M377.23 190.94a2.91 2.91 0 1 0 5.82 0a2.91 2.91 0 1 0 -5.82 0M378.10 191.00a2.90 2.90 0 1 0 5.80 0a2.90 2.90 0 1 0 -5.80 0M378.76 191.06a2.85 2.85 0 1 0 5.71 0a2.85 2.85 0 1 0 -5.71 0M379.45 191.13a2.81 2.81 0 1 0 5.62 0a2.81 2.81 0 1 0 -5.62 0M380.17 191.21a2.76 2.76 0 1 0 5.52 0a2.76 2.76 0 1 0 -5.52 0M380.92 191.30a2.72 2.72 0 1 0 5.43 0a2.72 2.72 0 1 0 -5.43 0M381.68 191.40a2.67 2.67 0 1 0 5.34 0a2.67 2.67 0 1 0 -5.34 0M382.46 191.51a2.62 2.62 0 1 0 5.25 0a2.62 2.62 0 1 0 -5.25 0M383.24 191.64a2.58 2.58 0 1 0 5.15 0a2.58 2.58 0 1 0 -5.15 0M384.02 191.77a2.53 2.53 0 1 0 5.06 0a2.53 2.53 0 1 0 -5.06 0M384.79 191.92a2.48 2.48 0 1 0 4.97 0a2.48 2.48 0 1 0 -4.97 0M385.55 192.07a2.44 2.44 0 1 0 4.88 0a2.44 2.44 0 1 0 -4.88 0M386.30 192.24a2.39 2.39 0 1 0 4.78 0a2.39 2.39 0 1 0 -4.78 0M387.01 192.41a2.35 2.35 0 1 0 4.69 0a2.35 2.35 0 1 0 -4.69 0M387.70 192.60a2.30 2.30 0 1 0 4.60 0a2.30 2.30 0 1 0 -4.60 0M388.46 192.87a2.26 2.26 0 1 0 4.53 0a2.26 2.26 0 1 0 -4.53 0M389.20 193.20a2.23 2.23 0 1 0 4.45 0a2.23 2.23 0 1 0 -4.45 0M389.91 193.59a2.19 2.19 0 1 0 4.38 0a2.19 2.19 0 1 0 -4.38 0M390.61 194.00a2.15 2.15 0 1 0 4.31 0a2.15 2.15 0 1 0 -4.31 0M391.30 194.42a2.12 2.12 0 1 0 4.24 0a2.12 2.12 0 1 0 -4.24 0M391.97 194.83a2.08 2.08 0 1 0 4.16 0a2.08 2.08 0 1 0 -4.16 0M392.64 195.20a2.05 2.05 0 1 0 4.09 0a2.05 2.05 0 1 0 -4.09 0M393.30 195.53a2.01 2.01 0 1 0 4.02 0a2.01 2.01 0 1 0 -4.02 0M393.97 195.78a1.97 1.97 0 1 0 3.95 0a1.97 1.97 0 1 0 -3.95 0M394.63 195.95a1.94 1.94 0 1 0 3.87 0a1.94 1.94 0 1 0 -3.87 0M395.30 196.00a1.90 1.90 0 1 0 3.80 0a1.90 1.90 0 1 0 -3.80 0M395.96 195.91a1.94 1.94 0 1 0 3.88 0a1.94 1.94 0 1 0 -3.88 0M396.62 195.69a1.98 1.98 0 1 0 3.96 0a1.98 1.98 0 1 0 -3.96 0M397.27 195.37a2.02 2.02 0 1 0 4.04 0a2.02 2.02 0 1 0 -4.04 0M397.93 194.96a2.06 2.06 0 1 0 4.12 0a2.06 2.06 0 1 0 -4.12 0M398.57 194.50a2.10 2.10 0 1 0 4.20 0a2.10 2.10 0 1 0 -4.20 0M399.22 194.02a2.14 2.14 0 1 0 4.28 0a2.14 2.14 0 1 0 -4.28 0M399.85 193.54a2.18 2.18 0 1 0 4.36 0a2.18 2.18 0 1 0 -4.36 0M400.48 193.09a2.22 2.22 0 1 0 4.44 0a2.22 2.22 0 1 0 -4.44 0M401.09 192.70a2.26 2.26 0 1 0 4.52 0a2.26 2.26 0 1 0 -4.52 0M401.70 192.40a2.30 2.30 0 1 0 4.60 0a2.30 2.30 0 1 0 -4.60 0M402.43 192.11a2.38 2.38 0 1 0 4.75 0a2.38 2.38 0 1 0 -4.75 0M403.16 191.86a2.45 2.45 0 1 0 4.90 0a2.45 2.45 0 1 0 -4.90 0M403.89 191.64a2.52 2.52 0 1 0 5.05 0a2.52 2.52 0 1 0 -5.05 0M404.60 191.46a2.60 2.60 0 1 0 5.20 0a2.60 2.60 0 1 0 -5.20 0M405.29 191.30a2.67 2.67 0 1 0 5.35 0a2.67 2.67 0 1 0 -5.35 0M405.94 191.18a2.75 2.75 0 1 0 5.50 0a2.75 2.75 0 1 0 -5.50 0M406.55 191.08a2.83 2.83 0 1 0 5.65 0a2.83 2.83 0 1 0 -5.65 0M407.10 191.00a2.90 2.90 0 1 0 5.80 0a2.90 2.90 0 1 0 -5.80 0M408.01 190.96a2.92 2.92 0 1 0 5.84 0a2.92 2.92 0 1 0 -5.84 0M408.85 191.01a2.94 2.94 0 1 0 5.88 0a2.94 2.94 0 1 0 -5.88 0M409.57 191.12a2.96 2.96 0 1 0 5.92 0a2.96 2.96 0 1 0 -5.92 0M410.17 191.23a2.98 2.98 0 1 0 5.96 0a2.98 2.98 0 1 0 -5.96 0M410.60 191.30a3.00 3.00 0 1 0 6.00 0a3.00 3.00 0 1 0 -6.00 0"/>
<path fill="#e31718" d="M371.60 200.80a3.00 3.00 0 1 0 6.00 0a3.00 3.00 0 1 0 -6.00 0M372.03 200.82a2.99 2.99 0 1 0 5.98 0a2.99 2.99 0 1 0 -5.98 0M372.56 200.87a2.98 2.98 0 1 0 5.96 0a2.98 2.98 0 1 0 -5.96 0M373.20 200.92a2.97 2.97 0 1 0 5.93 0a2.97 2.97 0 1 0 -5.93 0M373.91 200.97a2.96 2.96 0 1 0 5.91 0a2.96 2.96 0 1 0 -5.91 0M374.68 201.02a2.94 2.94 0 1 0 5.89 0a2.94 2.94 0 1 0 -5.89 0M375.50 201.06a2.93 2.93 0 1 0 5.87 0a2.93 2.93 0 1 0 -5.87 0M376.36 201.07a2.92 2.92 0 1 0 5.84 0a2.92 2.92 0 1 0 -5.84 0M377.23 201.06a2.91 2.91 0 1 0 5.82 0a2.91 2.91 0 1 0 -5.82 0M378.10 201.00a2.90 2.90 0 1 0 5.80 0a2.90 2.90 0 1 0 -5.80 0M378.76 200.94a2.85 2.85 0 1 0 5.71 0a2.85 2.85 0 1 0 -5.71 0M379.45 200.87a2.81 2.81 0 1 0 5.62 0a2.81 2.81 0 1 0 -5.62 0M380.17 200.79a2.76 2.76 0 1 0 5.52 0a2.76 2.76 0 1 0 -5.52 0M380.92 200.70a2.72 2.72 0 1 0 5.43 0a2.72 2.72 0 1 0 -5.43 0M381.68 200.60a2.67 2.67 0 1 0 5.34 0a2.67 2.67 0 1 0 -5.34 0M382.46 200.49a2.62 2.62 0 1 0 5.25 0a2.62 2.62 0 1 0 -5.25 0M383.24 200.36a2.58 2.58 0 1 0 5.15 0a2.58 2.58 0 1 0 -5.15 0M384.02 200.23a2.53 2.53 0 1 0 5.06 0a2.53 2.53 0 1 0 -5.06 0M384.79 200.08a2.48 2.48 0 1 0 4.97 0a2.48 2.48 0 1 0 -4.97 0M385.55 199.93a2.44 2.44 0 1 0 4.88 0a2.44 2.44 0 1 0 -4.88 0M386.30 199.76a2.39 2.39 0 1 0 4.78 0a2.39 2.39 0 1 0 -4.78 0M387.01 199.59a2.35 2.35 0 1 0 4.69 0a2.35 2.35 0 1 0 -4.69 0M387.70 199.40a2.30 2.30 0 1 0 4.60 0a2.30 2.30 0 1 0 -4.60 0M388.46 199.13a2.26 2.26 0 1 0 4.53 0a2.26 2.26 0 1 0 -4.53 0M389.20 198.80a2.23 2.23 0 1 0 4.45 0a2.23 2.23 0 1 0 -4.45 0M389.91 198.41a2.19 2.19 0 1 0 4.38 0a2.19 2.19 0 1 0 -4.38 0M390.61 198.00a2.15 2.15 0 1 0 4.31 0a2.15 2.15 0 1 0 -4.31 0M391.30 197.58a2.12 2.12 0 1 0 4.24 0a2.12 2.12 0 1 0 -4.24 0M391.97 197.17a2.08 2.08 0 1 0 4.16 0a2.08 2.08 0 1 0 -4.16 0M392.64 196.80a2.05 2.05 0 1 0 4.09 0a2.05 2.05 0 1 0 -4.09 0M393.30 196.47a2.01 2.01 0 1 0 4.02 0a2.01 2.01 0 1 0 -4.02 0M393.97 196.22a1.97 1.97 0 1 0 3.95 0a1.97 1.97 0 1 0 -3.95 0M394.63 196.05a1.94 1.94 0 1 0 3.87 0a1.94 1.94 0 1 0 -3.87 0M395.30 196.00a1.90 1.90 0 1 0 3.80 0a1.90 1.90 0 1 0 -3.80 0M395.96 196.09a1.94 1.94 0 1 0 3.88 0a1.94 1.94 0 1 0 -3.88 0M396.62 196.31a1.98 1.98 0 1 0 3.96 0a1.98 1.98 0 1 0 -3.96 0M397.27 196.63a2.02 2.02 0 1 0 4.04 0a2.02 2.02 0 1 0 -4.04 0M397.93 197.04a2.06 2.06 0 1 0 4.12 0a2.06 2.06 0 1 0 -4.12 0M398.57 197.50a2.10 2.10 0 1 0 4.20 0a2.10 2.10 0 1 0 -4.20 0M399.22 197.98a2.14 2.14 0 1 0 4.28 0a2.14 2.14 0 1 0 -4.28 0M399.85 198.46a2.18 2.18 0 1 0 4.36 0a2.18 2.18 0 1 0 -4.36 0M400.48 198.91a2.22 2.22 0 1 0 4.44 0a2.22 2.22 0 1 0 -4.44 0M401.09 199.30a2.26 2.26 0 1 0 4.52 0a2.26 2.26 0 1 0 -4.52 0M401.70 199.60a2.30 2.30 0 1 0 4.60 0a2.30 2.30 0 1 0 -4.60 0M402.43 199.89a2.38 2.38 0 1 0 4.75 0a2.38 2.38 0 1 0 -4.75 0M403.16 200.14a2.45 2.45 0 1 0 4.90 0a2.45 2.45 0 1 0 -4.90 0M403.89 200.36a2.52 2.52 0 1 0 5.05 0a2.52 2.52 0 1 0 -5.05 0M404.60 200.54a2.60 2.60 0 1 0 5.20 0a2.60 2.60 0 1 0 -5.20 0M405.29 200.70a2.67 2.67 0 1 0 5.35 0a2.67 2.67 0 1 0 -5.35 0M405.94 200.82a2.75 2.75 0 1 0 5.50 0a2.75 2.75 0 1 0 -5.50 0M406.55 200.92a2.83 2.83 0 1 0 5.65 0a2.83 2.83 0 1 0 -5.65 0M407.10 201.00a2.90 2.90 0 1 0 5.80 0a2.90 2.90 0 1 0 -5.80 0M408.01 201.04a2.92 2.92 0 1 0 5.84 0a2.92 2.92 0 1 0 -5.84 0M408.85 200.99a2.94 2.94 0 1 0 5.88 0a2.94 2.94 0 1 0 -5.88 0M409.57 200.88a2.96 2.96 0 1 0 5.92 0a2.96 2.96 0 1 0 -5.92 0M410.17 200.77a2.98 2.98 0 1 0 5.96 0a2.98 2.98 0 1 0 -5.96 0M410.60 200.70a3.00 3.00 0 1 0 6.00 0a3.00 3.00 0 1 0 -6.00 0"/>
<path fill="#9852f4" d="M425.20 191.60a2.70 2.70 0 1 0 5.40 0a2.70 2.70 0 1 0 -5.40 0M425.67 191.57a2.69 2.69 0 1 0 5.38 0a2.69 2.69 0 1 0 -5.38 0M426.28 191.53a2.68 2.68 0 1 0 5.35 0a2.68 2.68 0 1 0 -5.35 0M426.99 191.47a2.66 2.66 0 1 0 5.33 0a2.66 2.66 0 1 0 -5.33 0M427.80 191.41a2.65 2.65 0 1 0 5.30 0a2.65 2.65 0 1 0 -5.30 0M428.67 191.37a2.64 2.64 0 1 0 5.28 0a2.64 2.64 0 1 0 -5.28 0M429.57 191.34a2.62 2.62 0 1 0 5.25 0a2.62 2.62 0 1 0 -5.25 0M430.49 191.35a2.61 2.61 0 1 0 5.23 0a2.61 2.61 0 1 0 -5.23 0M431.40 191.40a2.60 2.60 0 1 0 5.20 0a2.60 2.60 0 1 0 -5.20 0M432.10 191.46a2.56 2.56 0 1 0 5.12 0a2.56 2.56 0 1 0 -5.12 0M432.83 191.53a2.52 2.52 0 1 0 5.04 0a2.52 2.52 0 1 0 -5.04 0M433.59 191.62a2.48 2.48 0 1 0 4.95 0a2.48 2.48 0 1 0 -4.95 0M434.37 191.72a2.44 2.44 0 1 0 4.87 0a2.44 2.44 0 1 0 -4.87 0M435.16 191.83a2.40 2.40 0 1 0 4.79 0a2.40 2.40 0 1 0 -4.79 0M435.96 191.95a2.35 2.35 0 1 0 4.71 0a2.35 2.35 0 1 0 -4.71 0M436.76 192.09a2.31 2.31 0 1 0 4.63 0a2.31 2.31 0 1 0 -4.63 0M437.55 192.25a2.27 2.27 0 1 0 4.55 0a2.27 2.27 0 1 0 -4.55 0M438.34 192.41a2.23 2.23 0 1 0 4.46 0a2.23 2.23 0 1 0 -4.46 0M439.10 192.60a2.19 2.19 0 1 0 4.38 0a2.19 2.19 0 1 0 -4.38 0M439.85 192.80a2.15 2.15 0 1 0 4.30 0a2.15 2.15 0 1 0 -4.30 0M440.57 193.05a2.12 2.12 0 1 0 4.24 0a2.12 2.12 0 1 0 -4.24 0M441.28 193.36a2.09 2.09 0 1 0 4.17 0a2.09 2.09 0 1 0 -4.17 0M441.98 193.72a2.05 2.05 0 1 0 4.11 0a2.05 2.05 0 1 0 -4.11 0M442.67 194.10a2.02 2.02 0 1 0 4.05 0a2.02 2.02 0 1 0 -4.05 0M443.36 194.49a1.99 1.99 0 1 0 3.98 0a1.99 1.99 0 1 0 -3.98 0M444.04 194.88a1.96 1.96 0 1 0 3.92 0a1.96 1.96 0 1 0 -3.92 0M444.72 195.23a1.93 1.93 0 1 0 3.85 0a1.93 1.93 0 1 0 -3.85 0M445.39 195.54a1.90 1.90 0 1 0 3.79 0a1.90 1.90 0 1 0 -3.79 0M446.06 195.78a1.86 1.86 0 1 0 3.73 0a1.86 1.86 0 1 0 -3.73 0M446.73 195.94a1.83 1.83 0 1 0 3.66 0a1.83 1.83 0 1 0 -3.66 0M447.40 196.00a1.80 1.80 0 1 0 3.60 0a1.80 1.80 0 1 0 -3.60 0M448.07 195.93a1.83 1.83 0 1 0 3.67 0a1.83 1.83 0 1 0 -3.67 0M448.74 195.74a1.87 1.87 0 1 0 3.74 0a1.87 1.87 0 1 0 -3.74 0M449.42 195.45a1.91 1.91 0 1 0 3.81 0a1.91 1.91 0 1 0 -3.81 0M450.10 195.09a1.94 1.94 0 1 0 3.88 0a1.94 1.94 0 1 0 -3.88 0M450.76 194.69a1.98 1.98 0 1 0 3.95 0a1.98 1.98 0 1 0 -3.95 0M451.42 194.26a2.01 2.01 0 1 0 4.02 0a2.01 2.01 0 1 0 -4.02 0M452.06 193.83a2.04 2.04 0 1 0 4.09 0a2.04 2.04 0 1 0 -4.09 0M452.68 193.43a2.08 2.08 0 1 0 4.16 0a2.08 2.08 0 1 0 -4.16 0M453.28 193.08a2.11 2.11 0 1 0 4.23 0a2.11 2.11 0 1 0 -4.23 0M453.85 192.80a2.15 2.15 0 1 0 4.30 0a2.15 2.15 0 1 0 -4.30 0M454.61 192.49a2.21 2.21 0 1 0 4.43 0a2.21 2.21 0 1 0 -4.43 0M455.33 192.22a2.28 2.28 0 1 0 4.56 0a2.28 2.28 0 1 0 -4.56 0M456.02 191.98a2.34 2.34 0 1 0 4.69 0a2.34 2.34 0 1 0 -4.69 0M456.66 191.78a2.41 2.41 0 1 0 4.81 0a2.41 2.41 0 1 0 -4.81 0M457.28 191.62a2.47 2.47 0 1 0 4.94 0a2.47 2.47 0 1 0 -4.94 0M457.85 191.49a2.54 2.54 0 1 0 5.07 0a2.54 2.54 0 1 0 -5.07 0M458.40 191.40a2.60 2.60 0 1 0 5.20 0a2.60 2.60 0 1 0 -5.20 0M459.40 191.38a2.62 2.62 0 1 0 5.25 0a2.62 2.62 0 1 0 -5.25 0M460.31 191.51a2.65 2.65 0 1 0 5.30 0a2.65 2.65 0 1 0 -5.30 0M461.07 191.69a2.68 2.68 0 1 0 5.35 0a2.68 2.68 0 1 0 -5.35 0M461.60 191.80a2.70 2.70 0 1 0 5.40 0a2.70 2.70 0 1 0 -5.40 0"/>
<path fill="#9852f4" d="M425.20 200.80a2.70 2.70 0 1 0 5.40 0a2.70 2.70 0 1 0 -5.40 0M425.67 200.83a2.69 2.69 0 1 0 5.38 0a2.69 2.69 0 1 0 -5.38 0M426.28 200.88a2.68 2.68 0 1 0 5.35 0a2.68 2.68 0 1 0 -5.35 0M426.99 200.94a2.66 2.66 0 1 0 5.33 0a2.66 2.66 0 1 0 -5.33 0M427.80 201.00a2.65 2.65 0 1 0 5.30 0a2.65 2.65 0 1 0 -5.30 0M428.67 201.05a2.64 2.64 0 1 0 5.28 0a2.64 2.64 0 1 0 -5.28 0M429.57 201.07a2.62 2.62 0 1 0 5.25 0a2.62 2.62 0 1 0 -5.25 0M430.49 201.06a2.61 2.61 0 1 0 5.23 0a2.61 2.61 0 1 0 -5.23 0M431.40 201.00a2.60 2.60 0 1 0 5.20 0a2.60 2.60 0 1 0 -5.20 0M432.10 200.93a2.56 2.56 0 1 0 5.12 0a2.56 2.56 0 1 0 -5.12 0M432.83 200.84a2.52 2.52 0 1 0 5.04 0a2.52 2.52 0 1 0 -5.04 0M433.59 200.74a2.48 2.48 0 1 0 4.95 0a2.48 2.48 0 1 0 -4.95 0M434.37 200.63a2.44 2.44 0 1 0 4.87 0a2.44 2.44 0 1 0 -4.87 0M435.16 200.50a2.40 2.40 0 1 0 4.79 0a2.40 2.40 0 1 0 -4.79 0M435.96 200.35a2.35 2.35 0 1 0 4.71 0a2.35 2.35 0 1 0 -4.71 0M436.76 200.19a2.31 2.31 0 1 0 4.63 0a2.31 2.31 0 1 0 -4.63 0M437.55 200.01a2.27 2.27 0 1 0 4.55 0a2.27 2.27 0 1 0 -4.55 0M438.34 199.82a2.23 2.23 0 1 0 4.46 0a2.23 2.23 0 1 0 -4.46 0M439.10 199.62a2.19 2.19 0 1 0 4.38 0a2.19 2.19 0 1 0 -4.38 0M439.85 199.40a2.15 2.15 0 1 0 4.30 0a2.15 2.15 0 1 0 -4.30 0M440.57 199.13a2.12 2.12 0 1 0 4.24 0a2.12 2.12 0 1 0 -4.24 0M441.28 198.80a2.09 2.09 0 1 0 4.17 0a2.09 2.09 0 1 0 -4.17 0M441.98 198.42a2.05 2.05 0 1 0 4.11 0a2.05 2.05 0 1 0 -4.11 0M442.67 198.01a2.02 2.02 0 1 0 4.05 0a2.02 2.02 0 1 0 -4.05 0M443.36 197.59a1.99 1.99 0 1 0 3.98 0a1.99 1.99 0 1 0 -3.98 0M444.04 197.19a1.96 1.96 0 1 0 3.92 0a1.96 1.96 0 1 0 -3.92 0M444.72 196.81a1.93 1.93 0 1 0 3.85 0a1.93 1.93 0 1 0 -3.85 0M445.39 196.49a1.90 1.90 0 1 0 3.79 0a1.90 1.90 0 1 0 -3.79 0M446.06 196.23a1.86 1.86 0 1 0 3.73 0a1.86 1.86 0 1 0 -3.73 0M446.73 196.06a1.83 1.83 0 1 0 3.66 0a1.83 1.83 0 1 0 -3.66 0M447.40 196.00a1.80 1.80 0 1 0 3.60 0a1.80 1.80 0 1 0 -3.60 0M448.07 196.07a1.83 1.83 0 1 0 3.67 0a1.83 1.83 0 1 0 -3.67 0M448.74 196.27a1.87 1.87 0 1 0 3.74 0a1.87 1.87 0 1 0 -3.74 0M449.42 196.58a1.91 1.91 0 1 0 3.81 0a1.91 1.91 0 1 0 -3.81 0M450.10 196.96a1.94 1.94 0 1 0 3.88 0a1.94 1.94 0 1 0 -3.88 0M450.76 197.39a1.98 1.98 0 1 0 3.95 0a1.98 1.98 0 1 0 -3.95 0M451.42 197.84a2.01 2.01 0 1 0 4.02 0a2.01 2.01 0 1 0 -4.02 0M452.06 198.30a2.04 2.04 0 1 0 4.09 0a2.04 2.04 0 1 0 -4.09 0M452.68 198.73a2.08 2.08 0 1 0 4.16 0a2.08 2.08 0 1 0 -4.16 0M453.28 199.10a2.11 2.11 0 1 0 4.23 0a2.11 2.11 0 1 0 -4.23 0M453.85 199.40a2.15 2.15 0 1 0 4.30 0a2.15 2.15 0 1 0 -4.30 0M454.61 199.74a2.21 2.21 0 1 0 4.43 0a2.21 2.21 0 1 0 -4.43 0M455.33 200.04a2.28 2.28 0 1 0 4.56 0a2.28 2.28 0 1 0 -4.56 0M456.02 200.31a2.34 2.34 0 1 0 4.69 0a2.34 2.34 0 1 0 -4.69 0M456.66 200.53a2.41 2.41 0 1 0 4.81 0a2.41 2.41 0 1 0 -4.81 0M457.28 200.73a2.47 2.47 0 1 0 4.94 0a2.47 2.47 0 1 0 -4.94 0M457.85 200.88a2.54 2.54 0 1 0 5.07 0a2.54 2.54 0 1 0 -5.07 0M458.40 201.00a2.60 2.60 0 1 0 5.20 0a2.60 2.60 0 1 0 -5.20 0M459.40 201.07a2.62 2.62 0 1 0 5.25 0a2.62 2.62 0 1 0 -5.25 0M460.31 201.00a2.65 2.65 0 1 0 5.30 0a2.65 2.65 0 1 0 -5.30 0M461.07 200.88a2.68 2.68 0 1 0 5.35 0a2.68 2.68 0 1 0 -5.35 0M461.60 200.80a2.70 2.70 0 1 0 5.40 0a2.70 2.70 0 1 0 -5.40 0"/>
<path fill="#e31718" d="M545.10 185.50a2.90 2.90 0 1 0 5.80 0a2.90 2.90 0 1 0 -5.80 0M545.58 185.33a2.87 2.87 0 1 0 5.74 0a2.87 2.87 0 1 0 -5.74 0M546.24 185.12a2.84 2.84 0 1 0 5.69 0a2.84 2.84 0 1 0 -5.69 0M547.00 184.86a2.81 2.81 0 1 0 5.63 0a2.81 2.81 0 1 0 -5.63 0M547.84 184.57a2.79 2.79 0 1 0 5.57 0a2.79 2.79 0 1 0 -5.57 0M548.70 184.24a2.76 2.76 0 1 0 5.51 0a2.76 2.76 0 1 0 -5.51 0M549.54 183.88a2.73 2.73 0 1 0 5.46 0a2.73 2.73 0 1 0 -5.46 0M550.30 183.50a2.70 2.70 0 1 0 5.40 0a2.70 2.70 0 1 0 -5.40 0M550.91 183.13a2.69 2.69 0 1 0 5.38 0a2.69 2.69 0 1 0 -5.38 0M551.51 182.72a2.68 2.68 0 1 0 5.35 0a2.68 2.68 0 1 0 -5.35 0M552.11 182.28a2.66 2.66 0 1 0 5.33 0a2.66 2.66 0 1 0 -5.33 0M552.71 181.81a2.65 2.65 0 1 0 5.30 0a2.65 2.65 0 1 0 -5.30 0M553.28 181.34a2.64 2.64 0 1 0 5.28 0a2.64 2.64 0 1 0 -5.28 0M553.85 180.88a2.62 2.62 0 1 0 5.25 0a2.62 2.62 0 1 0 -5.25 0M554.39 180.42a2.61 2.61 0 1 0 5.23 0a2.61 2.61 0 1 0 -5.23 0M554.90 180.00a2.60 2.60 0 1 0 5.20 0a2.60 2.60 0 1 0 -5.20 0M555.57 179.44a2.59 2.59 0 1 0 5.18 0a2.59 2.59 0 1 0 -5.18 0M556.23 178.85a2.58 2.58 0 1 0 5.17 0a2.58 2.58 0 1 0 -5.17 0M556.86 178.28a2.58 2.58 0 1 0 5.15 0a2.58 2.58 0 1 0 -5.15 0M557.42 177.76a2.57 2.57 0 1 0 5.13 0a2.57 2.57 0 1 0 -5.13 0M557.90 177.32a2.56 2.56 0 1 0 5.12 0a2.56 2.56 0 1 0 -5.12 0M558.25 177.00a2.55 2.55 0 1 0 5.10 0a2.55 2.55 0 1 0 -5.10 0"/>
<path fill="#e31718" d="M558.25 177.00a2.55 2.55 0 1 0 5.10 0a2.55 2.55 0 1 0 -5.10 0M558.61 177.31a2.56 2.56 0 1 0 5.11 0a2.56 2.56 0 1 0 -5.11 0M559.08 177.73a2.56 2.56 0 1 0 5.13 0a2.56 2.56 0 1 0 -5.13 0M559.64 178.23a2.57 2.57 0 1 0 5.14 0a2.57 2.57 0 1 0 -5.14 0M560.28 178.78a2.58 2.58 0 1 0 5.16 0a2.58 2.58 0 1 0 -5.16 0M560.96 179.36a2.59 2.59 0 1 0 5.17 0a2.59 2.59 0 1 0 -5.17 0M561.68 179.94a2.59 2.59 0 1 0 5.19 0a2.59 2.59 0 1 0 -5.19 0M562.40 180.50a2.60 2.60 0 1 0 5.20 0a2.60 2.60 0 1 0 -5.20 0M562.90 180.89a2.61 2.61 0 1 0 5.22 0a2.61 2.61 0 1 0 -5.22 0M563.42 181.30a2.62 2.62 0 1 0 5.24 0a2.62 2.62 0 1 0 -5.24 0M563.94 181.73a2.63 2.63 0 1 0 5.26 0a2.63 2.63 0 1 0 -5.26 0M564.49 182.16a2.64 2.64 0 1 0 5.28 0a2.64 2.64 0 1 0 -5.28 0M565.05 182.59a2.65 2.65 0 1 0 5.30 0a2.65 2.65 0 1 0 -5.30 0M565.64 183.02a2.66 2.66 0 1 0 5.32 0a2.66 2.66 0 1 0 -5.32 0M566.25 183.43a2.67 2.67 0 1 0 5.34 0a2.67 2.67 0 1 0 -5.34 0M566.90 183.82a2.68 2.68 0 1 0 5.36 0a2.68 2.68 0 1 0 -5.36 0M567.58 184.18a2.69 2.69 0 1 0 5.38 0a2.69 2.69 0 1 0 -5.38 0M568.30 184.50a2.70 2.70 0 1 0 5.40 0a2.70 2.70 0 1 0 -5.40 0M568.90 184.72a2.72 2.72 0 1 0 5.43 0a2.72 2.72 0 1 0 -5.43 0M569.58 184.94a2.73 2.73 0 1 0 5.46 0a2.73 2.73 0 1 0 -5.46 0M570.31 185.14a2.75 2.75 0 1 0 5.49 0a2.75 2.75 0 1 0 -5.49 0M571.08 185.33a2.76 2.76 0 1 0 5.52 0a2.76 2.76 0 1 0 -5.52 0M571.88 185.51a2.78 2.78 0 1 0 5.55 0a2.78 2.78 0 1 0 -5.55 0M572.68 185.67a2.79 2.79 0 1 0 5.58 0a2.79 2.79 0 1 0 -5.58 0M573.47 185.83a2.81 2.81 0 1 0 5.62 0a2.81 2.81 0 1 0 -5.62 0M574.23 185.97a2.82 2.82 0 1 0 5.65 0a2.82 2.82 0 1 0 -5.65 0M574.96 186.10a2.84 2.84 0 1 0 5.68 0a2.84 2.84 0 1 0 -5.68 0M575.62 186.22a2.85 2.85 0 1 0 5.71 0a2.85 2.85 0 1 0 -5.71 0M576.21 186.32a2.87 2.87 0 1 0 5.74 0a2.87 2.87 0 1 0 -5.74 0M576.71 186.42a2.88 2.88 0 1 0 5.77 0a2.88 2.88 0 1 0 -5.77 0M577.10 186.50a2.90 2.90 0 1 0 5.80 0a2.90 2.90 0 1 0 -5.80 0"/>
<path fill="#e31718" d="M546.10 204.80a3.10 3.10 0 1 0 6.20 0a3.10 3.10 0 1 0 -6.20 0M546.55 205.08a3.07 3.07 0 1 0 6.13 0a3.07 3.07 0 1 0 -6.13 0M547.16 205.45a3.03 3.03 0 1 0 6.07 0a3.03 3.03 0 1 0 -6.07 0M547.88 205.90a3.00 3.00 0 1 0 6.00 0a3.00 3.00 0 1 0 -6.00 0M548.65 206.40a2.97 2.97 0 1 0 5.93 0a2.97 2.97 0 1 0 -5.93 0M549.41 206.94a2.93 2.93 0 1 0 5.87 0a2.93 2.93 0 1 0 -5.87 0M550.10 207.50a2.90 2.90 0 1 0 5.80 0a2.90 2.90 0 1 0 -5.80 0M550.66 207.99a2.86 2.86 0 1 0 5.71 0a2.86 2.86 0 1 0 -5.71 0M551.23 208.50a2.81 2.81 0 1 0 5.63 0a2.81 2.81 0 1 0 -5.63 0M551.79 209.03a2.77 2.77 0 1 0 5.54 0a2.77 2.77 0 1 0 -5.54 0M552.34 209.59a2.73 2.73 0 1 0 5.46 0a2.73 2.73 0 1 0 -5.46 0M552.87 210.19a2.69 2.69 0 1 0 5.37 0a2.69 2.69 0 1 0 -5.37 0M553.40 210.82a2.64 2.64 0 1 0 5.29 0a2.64 2.64 0 1 0 -5.29 0M553.90 211.50a2.60 2.60 0 1 0 5.20 0a2.60 2.60 0 1 0 -5.20 0M554.28 212.10a2.58 2.58 0 1 0 5.16 0a2.58 2.58 0 1 0 -5.16 0M554.67 212.78a2.56 2.56 0 1 0 5.11 0a2.56 2.56 0 1 0 -5.11 0M555.06 213.51a2.53 2.53 0 1 0 5.07 0a2.53 2.53 0 1 0 -5.07 0M555.43 214.27a2.51 2.51 0 1 0 5.02 0a2.51 2.51 0 1 0 -5.02 0M555.80 215.02a2.49 2.49 0 1 0 4.98 0a2.49 2.49 0 1 0 -4.98 0M556.13 215.73a2.47 2.47 0 1 0 4.93 0a2.47 2.47 0 1 0 -4.93 0M556.43 216.37a2.44 2.44 0 1 0 4.89 0a2.44 2.44 0 1 0 -4.89 0M556.69 216.90a2.42 2.42 0 1 0 4.84 0a2.42 2.42 0 1 0 -4.84 0M556.90 217.30a2.40 2.40 0 1 0 4.80 0a2.40 2.40 0 1 0 -4.80 0"/>
<path fill="#e31718" d="M556.90 217.30a2.40 2.40 0 1 0 4.80 0a2.40 2.40 0 1 0 -4.80 0M557.07 216.92a2.41 2.41 0 1 0 4.82 0a2.41 2.41 0 1 0 -4.82 0M557.28 216.42a2.42 2.42 0 1 0 4.84 0a2.42 2.42 0 1 0 -4.84 0M557.52 215.83a2.43 2.43 0 1 0 4.86 0a2.43 2.43 0 1 0 -4.86 0M557.80 215.17a2.44 2.44 0 1 0 4.88 0a2.44 2.44 0 1 0 -4.88 0M558.11 214.46a2.45 2.45 0 1 0 4.90 0a2.45 2.45 0 1 0 -4.90 0M558.44 213.73a2.46 2.46 0 1 0 4.92 0a2.46 2.46 0 1 0 -4.92 0M558.80 212.99a2.47 2.47 0 1 0 4.94 0a2.47 2.47 0 1 0 -4.94 0M559.18 212.28a2.48 2.48 0 1 0 4.96 0a2.48 2.48 0 1 0 -4.96 0M559.58 211.61a2.49 2.49 0 1 0 4.98 0a2.49 2.49 0 1 0 -4.98 0M560.00 211.00a2.50 2.50 0 1 0 5.00 0a2.50 2.50 0 1 0 -5.00 0M560.42 210.44a2.52 2.52 0 1 0 5.05 0a2.52 2.52 0 1 0 -5.05 0M560.87 209.90a2.55 2.55 0 1 0 5.10 0a2.55 2.55 0 1 0 -5.10 0M561.34 209.37a2.58 2.58 0 1 0 5.15 0a2.58 2.58 0 1 0 -5.15 0M561.84 208.85a2.60 2.60 0 1 0 5.20 0a2.60 2.60 0 1 0 -5.20 0M562.36 208.34a2.62 2.62 0 1 0 5.25 0a2.62 2.62 0 1 0 -5.25 0M562.90 207.85a2.65 2.65 0 1 0 5.30 0a2.65 2.65 0 1 0 -5.30 0M563.46 207.37a2.67 2.67 0 1 0 5.35 0a2.67 2.67 0 1 0 -5.35 0M564.04 206.90a2.70 2.70 0 1 0 5.40 0a2.70 2.70 0 1 0 -5.40 0M564.63 206.45a2.73 2.73 0 1 0 5.45 0a2.73 2.73 0 1 0 -5.45 0M565.25 206.00a2.75 2.75 0 1 0 5.50 0a2.75 2.75 0 1 0 -5.50 0M565.82 205.63a2.76 2.76 0 1 0 5.53 0a2.76 2.76 0 1 0 -5.53 0M566.45 205.25a2.77 2.77 0 1 0 5.55 0a2.77 2.77 0 1 0 -5.55 0M567.12 204.88a2.79 2.79 0 1 0 5.58 0a2.79 2.79 0 1 0 -5.58 0M567.83 204.50a2.80 2.80 0 1 0 5.60 0a2.80 2.80 0 1 0 -5.60 0M568.55 204.14a2.81 2.81 0 1 0 5.62 0a2.81 2.81 0 1 0 -5.62 0M569.27 203.79a2.83 2.83 0 1 0 5.65 0a2.83 2.83 0 1 0 -5.65 0M569.97 203.45a2.84 2.84 0 1 0 5.67 0a2.84 2.84 0 1 0 -5.67 0M570.63 203.14a2.85 2.85 0 1 0 5.70 0a2.85 2.85 0 1 0 -5.70 0M571.24 202.85a2.86 2.86 0 1 0 5.72 0a2.86 2.86 0 1 0 -5.72 0M571.79 202.60a2.88 2.88 0 1 0 5.75 0a2.88 2.88 0 1 0 -5.75 0M572.24 202.38a2.89 2.89 0 1 0 5.77 0a2.89 2.89 0 1 0 -5.77 0M572.60 202.20a2.90 2.90 0 1 0 5.80 0a2.90 2.90 0 1 0 -5.80 0"/>
<path fill="#9852f4" d="M603.60 186.00a2.90 2.90 0 1 0 5.80 0a2.90 2.90 0 1 0 -5.80 0M604.08 185.79a2.87 2.87 0 1 0 5.74 0a2.87 2.87 0 1 0 -5.74 0M604.72 185.53a2.84 2.84 0 1 0 5.69 0a2.84 2.84 0 1 0 -5.69 0M605.48 185.21a2.81 2.81 0 1 0 5.63 0a2.81 2.81 0 1 0 -5.63 0M606.31 184.84a2.79 2.79 0 1 0 5.57 0a2.79 2.79 0 1 0 -5.57 0M607.17 184.43a2.76 2.76 0 1 0 5.51 0a2.76 2.76 0 1 0 -5.51 0M608.01 183.98a2.73 2.73 0 1 0 5.46 0a2.73 2.73 0 1 0 -5.46 0M608.80 183.50a2.70 2.70 0 1 0 5.40 0a2.70 2.70 0 1 0 -5.40 0M609.37 183.09a2.69 2.69 0 1 0 5.38 0a2.69 2.69 0 1 0 -5.38 0M609.96 182.62a2.68 2.68 0 1 0 5.36 0a2.68 2.68 0 1 0 -5.36 0M610.56 182.13a2.67 2.67 0 1 0 5.33 0a2.67 2.67 0 1 0 -5.33 0M611.15 181.61a2.66 2.66 0 1 0 5.31 0a2.66 2.66 0 1 0 -5.31 0M611.74 181.08a2.64 2.64 0 1 0 5.29 0a2.64 2.64 0 1 0 -5.29 0M612.31 180.54a2.63 2.63 0 1 0 5.27 0a2.63 2.63 0 1 0 -5.27 0M612.87 180.00a2.62 2.62 0 1 0 5.24 0a2.62 2.62 0 1 0 -5.24 0M613.40 179.49a2.61 2.61 0 1 0 5.22 0a2.61 2.61 0 1 0 -5.22 0M613.90 179.00a2.60 2.60 0 1 0 5.20 0a2.60 2.60 0 1 0 -5.20 0M614.52 178.37a2.59 2.59 0 1 0 5.19 0a2.59 2.59 0 1 0 -5.19 0M615.13 177.70a2.59 2.59 0 1 0 5.17 0a2.59 2.59 0 1 0 -5.17 0M615.71 177.04a2.58 2.58 0 1 0 5.16 0a2.58 2.58 0 1 0 -5.16 0M616.25 176.41a2.57 2.57 0 1 0 5.14 0a2.57 2.57 0 1 0 -5.14 0M616.73 175.84a2.56 2.56 0 1 0 5.13 0a2.56 2.56 0 1 0 -5.13 0M617.14 175.36a2.56 2.56 0 1 0 5.11 0a2.56 2.56 0 1 0 -5.11 0M617.45 175.00a2.55 2.55 0 1 0 5.10 0a2.55 2.55 0 1 0 -5.10 0"/>
<path fill="#9852f4" d="M617.45 175.00a2.55 2.55 0 1 0 5.10 0a2.55 2.55 0 1 0 -5.10 0M617.70 175.34a2.56 2.56 0 1 0 5.11 0a2.56 2.56 0 1 0 -5.11 0M618.02 175.78a2.56 2.56 0 1 0 5.12 0a2.56 2.56 0 1 0 -5.12 0M618.40 176.31a2.57 2.57 0 1 0 5.13 0a2.57 2.57 0 1 0 -5.13 0M618.82 176.91a2.57 2.57 0 1 0 5.14 0a2.57 2.57 0 1 0 -5.14 0M619.29 177.54a2.58 2.58 0 1 0 5.16 0a2.58 2.58 0 1 0 -5.16 0M619.79 178.19a2.58 2.58 0 1 0 5.17 0a2.58 2.58 0 1 0 -5.17 0M620.31 178.83a2.59 2.59 0 1 0 5.18 0a2.59 2.59 0 1 0 -5.18 0M620.85 179.44a2.59 2.59 0 1 0 5.19 0a2.59 2.59 0 1 0 -5.19 0M621.40 180.00a2.60 2.60 0 1 0 5.20 0a2.60 2.60 0 1 0 -5.20 0M621.90 180.48a2.61 2.61 0 1 0 5.22 0a2.61 2.61 0 1 0 -5.22 0M622.43 180.97a2.62 2.62 0 1 0 5.24 0a2.62 2.62 0 1 0 -5.24 0M622.98 181.47a2.63 2.63 0 1 0 5.26 0a2.63 2.63 0 1 0 -5.26 0M623.54 181.96a2.64 2.64 0 1 0 5.28 0a2.64 2.64 0 1 0 -5.28 0M624.13 182.44a2.65 2.65 0 1 0 5.30 0a2.65 2.65 0 1 0 -5.30 0M624.74 182.90a2.66 2.66 0 1 0 5.32 0a2.66 2.66 0 1 0 -5.32 0M625.36 183.35a2.67 2.67 0 1 0 5.34 0a2.67 2.67 0 1 0 -5.34 0M625.99 183.77a2.68 2.68 0 1 0 5.36 0a2.68 2.68 0 1 0 -5.36 0M626.64 184.15a2.69 2.69 0 1 0 5.38 0a2.69 2.69 0 1 0 -5.38 0M627.30 184.50a2.70 2.70 0 1 0 5.40 0a2.70 2.70 0 1 0 -5.40 0M627.94 184.78a2.72 2.72 0 1 0 5.44 0a2.72 2.72 0 1 0 -5.44 0M628.64 185.04a2.74 2.74 0 1 0 5.47 0a2.74 2.74 0 1 0 -5.47 0M629.39 185.28a2.75 2.75 0 1 0 5.51 0a2.75 2.75 0 1 0 -5.51 0M630.16 185.50a2.77 2.77 0 1 0 5.55 0a2.77 2.77 0 1 0 -5.55 0M630.94 185.69a2.79 2.79 0 1 0 5.58 0a2.79 2.79 0 1 0 -5.58 0M631.70 185.87a2.81 2.81 0 1 0 5.62 0a2.81 2.81 0 1 0 -5.62 0M632.43 186.03a2.83 2.83 0 1 0 5.65 0a2.83 2.83 0 1 0 -5.65 0M633.11 186.17a2.85 2.85 0 1 0 5.69 0a2.85 2.85 0 1 0 -5.69 0M633.71 186.29a2.86 2.86 0 1 0 5.73 0a2.86 2.86 0 1 0 -5.73 0M634.21 186.40a2.88 2.88 0 1 0 5.76 0a2.88 2.88 0 1 0 -5.76 0M634.60 186.50a2.90 2.90 0 1 0 5.80 0a2.90 2.90 0 1 0 -5.80 0"/>
<path fill="#9852f4" d="M609.50 204.00a3.00 3.00 0 1 0 6.00 0a3.00 3.00 0 1 0 -6.00 0M609.84 204.37a2.97 2.97 0 1 0 5.93 0a2.97 2.97 0 1 0 -5.93 0M610.30 204.89a2.93 2.93 0 1 0 5.87 0a2.93 2.93 0 1 0 -5.87 0M610.84 205.50a2.90 2.90 0 1 0 5.80 0a2.90 2.90 0 1 0 -5.80 0M611.42 206.17a2.87 2.87 0 1 0 5.73 0a2.87 2.87 0 1 0 -5.73 0M611.98 206.85a2.83 2.83 0 1 0 5.67 0a2.83 2.83 0 1 0 -5.67 0M612.50 207.50a2.80 2.80 0 1 0 5.60 0a2.80 2.80 0 1 0 -5.60 0M612.97 208.12a2.77 2.77 0 1 0 5.53 0a2.77 2.77 0 1 0 -5.53 0M613.43 208.75a2.73 2.73 0 1 0 5.47 0a2.73 2.73 0 1 0 -5.47 0M613.89 209.39a2.70 2.70 0 1 0 5.40 0a2.70 2.70 0 1 0 -5.40 0M614.33 210.05a2.67 2.67 0 1 0 5.33 0a2.67 2.67 0 1 0 -5.33 0M614.77 210.75a2.63 2.63 0 1 0 5.27 0a2.63 2.63 0 1 0 -5.27 0M615.20 211.50a2.60 2.60 0 1 0 5.20 0a2.60 2.60 0 1 0 -5.20 0M615.53 212.14a2.58 2.58 0 1 0 5.15 0a2.58 2.58 0 1 0 -5.15 0M615.87 212.86a2.55 2.55 0 1 0 5.10 0a2.55 2.55 0 1 0 -5.10 0M616.22 213.63a2.52 2.52 0 1 0 5.05 0a2.52 2.52 0 1 0 -5.05 0M616.56 214.40a2.50 2.50 0 1 0 5.00 0a2.50 2.50 0 1 0 -5.00 0M616.87 215.14a2.48 2.48 0 1 0 4.95 0a2.48 2.48 0 1 0 -4.95 0M617.16 215.82a2.45 2.45 0 1 0 4.90 0a2.45 2.45 0 1 0 -4.90 0M617.41 216.38a2.42 2.42 0 1 0 4.85 0a2.42 2.42 0 1 0 -4.85 0M617.60 216.80a2.40 2.40 0 1 0 4.80 0a2.40 2.40 0 1 0 -4.80 0"/>
<path fill="#9852f4" d="M617.60 216.80a2.40 2.40 0 1 0 4.80 0a2.40 2.40 0 1 0 -4.80 0M617.79 216.42a2.41 2.41 0 1 0 4.82 0a2.41 2.41 0 1 0 -4.82 0M618.02 215.91a2.42 2.42 0 1 0 4.84 0a2.42 2.42 0 1 0 -4.84 0M618.28 215.32a2.43 2.43 0 1 0 4.86 0a2.43 2.43 0 1 0 -4.86 0M618.59 214.65a2.44 2.44 0 1 0 4.88 0a2.44 2.44 0 1 0 -4.88 0M618.92 213.93a2.45 2.45 0 1 0 4.90 0a2.45 2.45 0 1 0 -4.90 0M619.29 213.19a2.46 2.46 0 1 0 4.92 0a2.46 2.46 0 1 0 -4.92 0M619.69 212.46a2.47 2.47 0 1 0 4.94 0a2.47 2.47 0 1 0 -4.94 0M620.10 211.75a2.48 2.48 0 1 0 4.96 0a2.48 2.48 0 1 0 -4.96 0M620.54 211.09a2.49 2.49 0 1 0 4.98 0a2.49 2.49 0 1 0 -4.98 0M621.00 210.50a2.50 2.50 0 1 0 5.00 0a2.50 2.50 0 1 0 -5.00 0M621.47 209.97a2.52 2.52 0 1 0 5.05 0a2.52 2.52 0 1 0 -5.05 0M621.97 209.45a2.55 2.55 0 1 0 5.10 0a2.55 2.55 0 1 0 -5.10 0M622.49 208.95a2.58 2.58 0 1 0 5.15 0a2.58 2.58 0 1 0 -5.15 0M623.05 208.47a2.60 2.60 0 1 0 5.20 0a2.60 2.60 0 1 0 -5.20 0M623.62 208.01a2.62 2.62 0 1 0 5.25 0a2.62 2.62 0 1 0 -5.25 0M624.22 207.57a2.65 2.65 0 1 0 5.30 0a2.65 2.65 0 1 0 -5.30 0M624.84 207.15a2.67 2.67 0 1 0 5.35 0a2.67 2.67 0 1 0 -5.35 0M625.46 206.74a2.70 2.70 0 1 0 5.40 0a2.70 2.70 0 1 0 -5.40 0M626.10 206.36a2.73 2.73 0 1 0 5.45 0a2.73 2.73 0 1 0 -5.45 0M626.75 206.00a2.75 2.75 0 1 0 5.50 0a2.75 2.75 0 1 0 -5.50 0M627.39 205.69a2.76 2.76 0 1 0 5.53 0a2.76 2.76 0 1 0 -5.53 0M628.10 205.39a2.78 2.78 0 1 0 5.55 0a2.78 2.78 0 1 0 -5.55 0M628.85 205.11a2.79 2.79 0 1 0 5.58 0a2.79 2.79 0 1 0 -5.58 0M629.63 204.84a2.80 2.80 0 1 0 5.61 0a2.80 2.80 0 1 0 -5.61 0M630.41 204.59a2.82 2.82 0 1 0 5.64 0a2.82 2.82 0 1 0 -5.64 0M631.18 204.35a2.83 2.83 0 1 0 5.66 0a2.83 2.83 0 1 0 -5.66 0M631.92 204.14a2.85 2.85 0 1 0 5.69 0a2.85 2.85 0 1 0 -5.69 0M632.60 203.95a2.86 2.86 0 1 0 5.72 0a2.86 2.86 0 1 0 -5.72 0M633.20 203.78a2.87 2.87 0 1 0 5.75 0a2.87 2.87 0 1 0 -5.75 0M633.71 203.63a2.89 2.89 0 1 0 5.77 0a2.89 2.89 0 1 0 -5.77 0M634.10 203.50a2.90 2.90 0 1 0 5.80 0a2.90 2.90 0 1 0 -5.80 0"/>
<path fill="#e31718" d="M723.10 151.50a3.40 3.40 0 1 0 6.80 0a3.40 3.40 0 1 0 -6.80 0M723.61 151.28a3.32 3.32 0 1 0 6.65 0a3.32 3.32 0 1 0 -6.65 0M724.26 151.01a3.25 3.25 0 1 0 6.50 0a3.25 3.25 0 1 0 -6.50 0M725.03 150.68a3.17 3.17 0 1 0 6.35 0a3.17 3.17 0 1 0 -6.35 0M725.87 150.31a3.10 3.10 0 1 0 6.20 0a3.10 3.10 0 1 0 -6.20 0M726.74 149.90a3.02 3.02 0 1 0 6.05 0a3.02 3.02 0 1 0 -6.05 0M727.62 149.46a2.95 2.95 0 1 0 5.90 0a2.95 2.95 0 1 0 -5.90 0M728.45 148.99a2.88 2.88 0 1 0 5.75 0a2.88 2.88 0 1 0 -5.75 0M729.20 148.50a2.80 2.80 0 1 0 5.60 0a2.80 2.80 0 1 0 -5.60 0M729.78 148.02a2.78 2.78 0 1 0 5.56 0a2.78 2.78 0 1 0 -5.56 0M730.35 147.49a2.76 2.76 0 1 0 5.51 0a2.76 2.76 0 1 0 -5.51 0M730.91 146.91a2.73 2.73 0 1 0 5.47 0a2.73 2.73 0 1 0 -5.47 0M731.47 146.32a2.71 2.71 0 1 0 5.42 0a2.71 2.71 0 1 0 -5.42 0M732.00 145.71a2.69 2.69 0 1 0 5.38 0a2.69 2.69 0 1 0 -5.38 0M732.52 145.11a2.67 2.67 0 1 0 5.33 0a2.67 2.67 0 1 0 -5.33 0M733.01 144.53a2.64 2.64 0 1 0 5.29 0a2.64 2.64 0 1 0 -5.29 0M733.47 143.99a2.62 2.62 0 1 0 5.24 0a2.62 2.62 0 1 0 -5.24 0M733.90 143.50a2.60 2.60 0 1 0 5.20 0a2.60 2.60 0 1 0 -5.20 0M734.59 142.69a2.58 2.58 0 1 0 5.16 0a2.58 2.58 0 1 0 -5.16 0M735.20 141.94a2.56 2.56 0 1 0 5.12 0a2.56 2.56 0 1 0 -5.12 0M735.74 141.26a2.54 2.54 0 1 0 5.08 0a2.54 2.54 0 1 0 -5.08 0M736.17 140.71a2.52 2.52 0 1 0 5.04 0a2.52 2.52 0 1 0 -5.04 0M736.50 140.30a2.50 2.50 0 1 0 5.00 0a2.50 2.50 0 1 0 -5.00 0"/>
<path fill="#e31718" d="M736.50 140.30a2.50 2.50 0 1 0 5.00 0a2.50 2.50 0 1 0 -5.00 0M736.78 140.62a2.51 2.51 0 1 0 5.03 0a2.51 2.51 0 1 0 -5.03 0M737.14 141.04a2.52 2.52 0 1 0 5.05 0a2.52 2.52 0 1 0 -5.05 0M737.56 141.53a2.54 2.54 0 1 0 5.08 0a2.54 2.54 0 1 0 -5.08 0M738.04 142.09a2.55 2.55 0 1 0 5.10 0a2.55 2.55 0 1 0 -5.10 0M738.58 142.68a2.56 2.56 0 1 0 5.12 0a2.56 2.56 0 1 0 -5.12 0M739.16 143.30a2.58 2.58 0 1 0 5.15 0a2.58 2.58 0 1 0 -5.15 0M739.77 143.91a2.59 2.59 0 1 0 5.17 0a2.59 2.59 0 1 0 -5.17 0M740.40 144.50a2.60 2.60 0 1 0 5.20 0a2.60 2.60 0 1 0 -5.20 0M740.87 144.93a2.62 2.62 0 1 0 5.24 0a2.62 2.62 0 1 0 -5.24 0M741.37 145.38a2.64 2.64 0 1 0 5.27 0a2.64 2.64 0 1 0 -5.27 0M741.90 145.85a2.65 2.65 0 1 0 5.31 0a2.65 2.65 0 1 0 -5.31 0M742.44 146.33a2.67 2.67 0 1 0 5.35 0a2.67 2.67 0 1 0 -5.35 0M743.01 146.81a2.69 2.69 0 1 0 5.38 0a2.69 2.69 0 1 0 -5.38 0M743.59 147.30a2.71 2.71 0 1 0 5.42 0a2.71 2.71 0 1 0 -5.42 0M744.19 147.77a2.73 2.73 0 1 0 5.45 0a2.73 2.73 0 1 0 -5.45 0M744.81 148.24a2.75 2.75 0 1 0 5.49 0a2.75 2.75 0 1 0 -5.49 0M745.43 148.68a2.76 2.76 0 1 0 5.53 0a2.76 2.76 0 1 0 -5.53 0M746.06 149.11a2.78 2.78 0 1 0 5.56 0a2.78 2.78 0 1 0 -5.56 0M746.70 149.50a2.80 2.80 0 1 0 5.60 0a2.80 2.80 0 1 0 -5.60 0M747.29 149.85a2.85 2.85 0 1 0 5.70 0a2.85 2.85 0 1 0 -5.70 0M747.94 150.19a2.90 2.90 0 1 0 5.80 0a2.90 2.90 0 1 0 -5.80 0M748.63 150.52a2.95 2.95 0 1 0 5.90 0a2.95 2.95 0 1 0 -5.90 0M749.35 150.85a3.00 3.00 0 1 0 6.00 0a3.00 3.00 0 1 0 -6.00 0M750.08 151.16a3.05 3.05 0 1 0 6.10 0a3.05 3.05 0 1 0 -6.10 0M750.81 151.46a3.10 3.10 0 1 0 6.20 0a3.10 3.10 0 1 0 -6.20 0M751.51 151.75a3.15 3.15 0 1 0 6.30 0a3.15 3.15 0 1 0 -6.30 0M752.17 152.01a3.20 3.20 0 1 0 6.40 0a3.20 3.20 0 1 0 -6.40 0M752.78 152.25a3.25 3.25 0 1 0 6.50 0a3.25 3.25 0 1 0 -6.50 0M753.31 152.46a3.30 3.30 0 1 0 6.60 0a3.30 3.30 0 1 0 -6.60 0M753.76 152.65a3.35 3.35 0 1 0 6.70 0a3.35 3.35 0 1 0 -6.70 0M754.10 152.80a3.40 3.40 0 1 0 6.80 0a3.40 3.40 0 1 0 -6.80 0"/>
<path fill="#9852f4" d="M781.90 151.80a3.40 3.40 0 1 0 6.80 0a3.40 3.40 0 1 0 -6.80 0M782.29 151.55a3.35 3.35 0 1 0 6.71 0a3.35 3.35 0 1 0 -6.71 0M782.78 151.24a3.31 3.31 0 1 0 6.62 0a3.31 3.31 0 1 0 -6.62 0M783.35 150.88a3.27 3.27 0 1 0 6.53 0a3.27 3.27 0 1 0 -6.53 0M783.98 150.47a3.22 3.22 0 1 0 6.44 0a3.22 3.22 0 1 0 -6.44 0M784.66 150.03a3.17 3.17 0 1 0 6.35 0a3.17 3.17 0 1 0 -6.35 0M785.37 149.55a3.13 3.13 0 1 0 6.26 0a3.13 3.13 0 1 0 -6.26 0M786.08 149.05a3.08 3.08 0 1 0 6.17 0a3.08 3.08 0 1 0 -6.17 0M786.77 148.54a3.04 3.04 0 1 0 6.08 0a3.04 3.04 0 1 0 -6.08 0M787.44 148.02a3.00 3.00 0 1 0 5.99 0a3.00 3.00 0 1 0 -5.99 0M788.05 147.50a2.95 2.95 0 1 0 5.90 0a2.95 2.95 0 1 0 -5.90 0M788.55 147.01a2.93 2.93 0 1 0 5.86 0a2.93 2.93 0 1 0 -5.86 0M789.06 146.49a2.91 2.91 0 1 0 5.83 0a2.91 2.91 0 1 0 -5.83 0M789.56 145.95a2.90 2.90 0 1 0 5.79 0a2.90 2.90 0 1 0 -5.79 0M790.06 145.38a2.88 2.88 0 1 0 5.75 0a2.88 2.88 0 1 0 -5.75 0M790.55 144.80a2.86 2.86 0 1 0 5.72 0a2.86 2.86 0 1 0 -5.72 0M791.03 144.22a2.84 2.84 0 1 0 5.68 0a2.84 2.84 0 1 0 -5.68 0M791.50 143.64a2.82 2.82 0 1 0 5.65 0a2.82 2.82 0 1 0 -5.65 0M791.96 143.07a2.80 2.80 0 1 0 5.61 0a2.80 2.80 0 1 0 -5.61 0M792.41 142.52a2.79 2.79 0 1 0 5.57 0a2.79 2.79 0 1 0 -5.57 0M792.84 142.00a2.77 2.77 0 1 0 5.54 0a2.77 2.77 0 1 0 -5.54 0M793.25 141.50a2.75 2.75 0 1 0 5.50 0a2.75 2.75 0 1 0 -5.50 0M793.80 140.83a2.74 2.74 0 1 0 5.47 0a2.74 2.74 0 1 0 -5.47 0M794.34 140.16a2.73 2.73 0 1 0 5.45 0a2.73 2.73 0 1 0 -5.45 0M794.86 139.50a2.71 2.71 0 1 0 5.42 0a2.71 2.71 0 1 0 -5.42 0M795.36 138.88a2.70 2.70 0 1 0 5.40 0a2.70 2.70 0 1 0 -5.40 0M795.82 138.29a2.69 2.69 0 1 0 5.38 0a2.69 2.69 0 1 0 -5.38 0M796.23 137.77a2.67 2.67 0 1 0 5.35 0a2.67 2.67 0 1 0 -5.35 0M796.58 137.34a2.66 2.66 0 1 0 5.33 0a2.66 2.66 0 1 0 -5.33 0M796.85 137.00a2.65 2.65 0 1 0 5.30 0a2.65 2.65 0 1 0 -5.30 0"/>
<path fill="#9852f4" d="M796.85 137.00a2.65 2.65 0 1 0 5.30 0a2.65 2.65 0 1 0 -5.30 0M797.08 137.36a2.67 2.67 0 1 0 5.34 0a2.67 2.67 0 1 0 -5.34 0M797.38 137.83a2.69 2.69 0 1 0 5.39 0a2.69 2.69 0 1 0 -5.39 0M797.73 138.39a2.72 2.72 0 1 0 5.43 0a2.72 2.72 0 1 0 -5.43 0M798.13 139.01a2.74 2.74 0 1 0 5.48 0a2.74 2.74 0 1 0 -5.48 0M798.57 139.69a2.76 2.76 0 1 0 5.52 0a2.76 2.76 0 1 0 -5.52 0M799.05 140.39a2.78 2.78 0 1 0 5.57 0a2.78 2.78 0 1 0 -5.57 0M799.56 141.10a2.81 2.81 0 1 0 5.61 0a2.81 2.81 0 1 0 -5.61 0M800.10 141.81a2.83 2.83 0 1 0 5.66 0a2.83 2.83 0 1 0 -5.66 0M800.65 142.50a2.85 2.85 0 1 0 5.70 0a2.85 2.85 0 1 0 -5.70 0M801.05 142.97a2.87 2.87 0 1 0 5.74 0a2.87 2.87 0 1 0 -5.74 0M801.47 143.46a2.89 2.89 0 1 0 5.78 0a2.89 2.89 0 1 0 -5.78 0M801.91 143.96a2.91 2.91 0 1 0 5.82 0a2.91 2.91 0 1 0 -5.82 0M802.37 144.47a2.93 2.93 0 1 0 5.85 0a2.93 2.93 0 1 0 -5.85 0M802.84 144.99a2.95 2.95 0 1 0 5.89 0a2.95 2.95 0 1 0 -5.89 0M803.33 145.51a2.97 2.97 0 1 0 5.93 0a2.97 2.97 0 1 0 -5.93 0M803.83 146.03a2.98 2.98 0 1 0 5.97 0a2.98 2.98 0 1 0 -5.97 0M804.33 146.55a3.00 3.00 0 1 0 6.01 0a3.00 3.00 0 1 0 -6.01 0M804.84 147.06a3.02 3.02 0 1 0 6.05 0a3.02 3.02 0 1 0 -6.05 0M805.36 147.57a3.04 3.04 0 1 0 6.08 0a3.04 3.04 0 1 0 -6.08 0M805.87 148.06a3.06 3.06 0 1 0 6.12 0a3.06 3.06 0 1 0 -6.12 0M806.39 148.54a3.08 3.08 0 1 0 6.16 0a3.08 3.08 0 1 0 -6.16 0M806.90 149.00a3.10 3.10 0 1 0 6.20 0a3.10 3.10 0 1 0 -6.20 0M807.47 149.50a3.12 3.12 0 1 0 6.25 0a3.12 3.12 0 1 0 -6.25 0M808.09 150.00a3.15 3.15 0 1 0 6.30 0a3.15 3.15 0 1 0 -6.30 0M808.74 150.51a3.17 3.17 0 1 0 6.35 0a3.17 3.17 0 1 0 -6.35 0M809.41 151.02a3.20 3.20 0 1 0 6.40 0a3.20 3.20 0 1 0 -6.40 0M810.09 151.52a3.23 3.23 0 1 0 6.45 0a3.23 3.23 0 1 0 -6.45 0M810.76 152.01a3.25 3.25 0 1 0 6.50 0a3.25 3.25 0 1 0 -6.50 0M811.40 152.47a3.27 3.27 0 1 0 6.55 0a3.27 3.27 0 1 0 -6.55 0M812.01 152.90a3.30 3.30 0 1 0 6.60 0a3.30 3.30 0 1 0 -6.60 0M812.56 153.30a3.33 3.33 0 1 0 6.65 0a3.33 3.33 0 1 0 -6.65 0M813.06 153.65a3.35 3.35 0 1 0 6.70 0a3.35 3.35 0 1 0 -6.70 0M813.47 153.95a3.38 3.38 0 1 0 6.75 0a3.38 3.38 0 1 0 -6.75 0M813.80 154.20a3.40 3.40 0 1 0 6.80 0a3.40 3.40 0 1 0 -6.80 0"/>
<path fill="#e31718" d="M723.20 236.50a3.30 3.30 0 1 0 6.60 0a3.30 3.30 0 1 0 -6.60 0M723.54 236.84a3.26 3.26 0 1 0 6.51 0a3.26 3.26 0 1 0 -6.51 0M723.99 237.29a3.21 3.21 0 1 0 6.43 0a3.21 3.21 0 1 0 -6.43 0M724.52 237.83a3.17 3.17 0 1 0 6.34 0a3.17 3.17 0 1 0 -6.34 0M725.09 238.44a3.13 3.13 0 1 0 6.26 0a3.13 3.13 0 1 0 -6.26 0M725.68 239.09a3.09 3.09 0 1 0 6.17 0a3.09 3.09 0 1 0 -6.17 0M726.26 239.79a3.04 3.04 0 1 0 6.09 0a3.04 3.04 0 1 0 -6.09 0M726.80 240.50a3.00 3.00 0 1 0 6.00 0a3.00 3.00 0 1 0 -6.00 0M727.22 241.08a2.94 2.94 0 1 0 5.89 0a2.94 2.94 0 1 0 -5.89 0M727.64 241.69a2.89 2.89 0 1 0 5.78 0a2.89 2.89 0 1 0 -5.78 0M728.07 242.33a2.83 2.83 0 1 0 5.67 0a2.83 2.83 0 1 0 -5.67 0M728.50 243.00a2.78 2.78 0 1 0 5.56 0a2.78 2.78 0 1 0 -5.56 0M728.92 243.69a2.72 2.72 0 1 0 5.44 0a2.72 2.72 0 1 0 -5.44 0M729.33 244.39a2.67 2.67 0 1 0 5.33 0a2.67 2.67 0 1 0 -5.33 0M729.73 245.09a2.61 2.61 0 1 0 5.22 0a2.61 2.61 0 1 0 -5.22 0M730.12 245.80a2.56 2.56 0 1 0 5.11 0a2.56 2.56 0 1 0 -5.11 0M730.50 246.50a2.50 2.50 0 1 0 5.00 0a2.50 2.50 0 1 0 -5.00 0M730.85 247.24a2.47 2.47 0 1 0 4.93 0a2.47 2.47 0 1 0 -4.93 0M731.20 248.04a2.43 2.43 0 1 0 4.87 0a2.43 2.43 0 1 0 -4.87 0M731.55 248.87a2.40 2.40 0 1 0 4.80 0a2.40 2.40 0 1 0 -4.80 0M731.89 249.71a2.37 2.37 0 1 0 4.73 0a2.37 2.37 0 1 0 -4.73 0M732.21 250.53a2.33 2.33 0 1 0 4.67 0a2.33 2.33 0 1 0 -4.67 0M732.51 251.30a2.30 2.30 0 1 0 4.60 0a2.30 2.30 0 1 0 -4.60 0M732.78 251.98a2.27 2.27 0 1 0 4.53 0a2.27 2.27 0 1 0 -4.53 0M733.01 252.56a2.23 2.23 0 1 0 4.47 0a2.23 2.23 0 1 0 -4.47 0M733.20 253.00a2.20 2.20 0 1 0 4.40 0a2.20 2.20 0 1 0 -4.40 0"/>
<path fill="#e31718" d="M733.20 253.00a2.20 2.20 0 1 0 4.40 0a2.20 2.20 0 1 0 -4.40 0M733.36 252.59a2.21 2.21 0 1 0 4.42 0a2.21 2.21 0 1 0 -4.42 0M733.55 252.06a2.22 2.22 0 1 0 4.44 0a2.22 2.22 0 1 0 -4.44 0M733.77 251.43a2.23 2.23 0 1 0 4.46 0a2.23 2.23 0 1 0 -4.46 0M734.02 250.73a2.24 2.24 0 1 0 4.48 0a2.24 2.24 0 1 0 -4.48 0M734.31 249.97a2.25 2.25 0 1 0 4.50 0a2.25 2.25 0 1 0 -4.50 0M734.62 249.17a2.26 2.26 0 1 0 4.52 0a2.26 2.26 0 1 0 -4.52 0M734.97 248.36a2.27 2.27 0 1 0 4.54 0a2.27 2.27 0 1 0 -4.54 0M735.35 247.54a2.28 2.28 0 1 0 4.56 0a2.28 2.28 0 1 0 -4.56 0M735.76 246.75a2.29 2.29 0 1 0 4.58 0a2.29 2.29 0 1 0 -4.58 0M736.20 246.00a2.30 2.30 0 1 0 4.60 0a2.30 2.30 0 1 0 -4.60 0M736.53 245.44a2.35 2.35 0 1 0 4.69 0a2.35 2.35 0 1 0 -4.69 0M736.89 244.86a2.39 2.39 0 1 0 4.78 0a2.39 2.39 0 1 0 -4.78 0M737.27 244.27a2.44 2.44 0 1 0 4.88 0a2.44 2.44 0 1 0 -4.88 0M737.67 243.68a2.48 2.48 0 1 0 4.97 0a2.48 2.48 0 1 0 -4.97 0M738.10 243.08a2.53 2.53 0 1 0 5.06 0a2.53 2.53 0 1 0 -5.06 0M738.54 242.49a2.58 2.58 0 1 0 5.15 0a2.58 2.58 0 1 0 -5.15 0M738.99 241.89a2.62 2.62 0 1 0 5.25 0a2.62 2.62 0 1 0 -5.25 0M739.46 241.30a2.67 2.67 0 1 0 5.34 0a2.67 2.67 0 1 0 -5.34 0M739.94 240.71a2.72 2.72 0 1 0 5.43 0a2.72 2.72 0 1 0 -5.43 0M740.42 240.14a2.76 2.76 0 1 0 5.52 0a2.76 2.76 0 1 0 -5.52 0M740.91 239.58a2.81 2.81 0 1 0 5.62 0a2.81 2.81 0 1 0 -5.62 0M741.41 239.03a2.85 2.85 0 1 0 5.71 0a2.85 2.85 0 1 0 -5.71 0M741.90 238.50a2.90 2.90 0 1 0 5.80 0a2.90 2.90 0 1 0 -5.80 0M742.44 237.97a2.93 2.93 0 1 0 5.86 0a2.93 2.93 0 1 0 -5.86 0M743.02 237.43a2.96 2.96 0 1 0 5.92 0a2.96 2.96 0 1 0 -5.92 0M743.65 236.89a2.99 2.99 0 1 0 5.98 0a2.99 2.99 0 1 0 -5.98 0M744.30 236.35a3.02 3.02 0 1 0 6.05 0a3.02 3.02 0 1 0 -6.05 0M744.96 235.81a3.05 3.05 0 1 0 6.11 0a3.05 3.05 0 1 0 -6.11 0M745.62 235.29a3.08 3.08 0 1 0 6.17 0a3.08 3.08 0 1 0 -6.17 0M746.27 234.78a3.12 3.12 0 1 0 6.23 0a3.12 3.12 0 1 0 -6.23 0M746.89 234.30a3.15 3.15 0 1 0 6.29 0a3.15 3.15 0 1 0 -6.29 0M747.48 233.85a3.18 3.18 0 1 0 6.35 0a3.18 3.18 0 1 0 -6.35 0M748.01 233.44a3.21 3.21 0 1 0 6.42 0a3.21 3.21 0 1 0 -6.42 0M748.49 233.08a3.24 3.24 0 1 0 6.48 0a3.24 3.24 0 1 0 -6.48 0M748.89 232.76a3.27 3.27 0 1 0 6.54 0a3.27 3.27 0 1 0 -6.54 0M749.20 232.50a3.30 3.30 0 1 0 6.60 0a3.30 3.30 0 1 0 -6.60 0"/>
<path fill="#9852f4" d="M787.70 234.00a3.30 3.30 0 1 0 6.60 0a3.30 3.30 0 1 0 -6.60 0M788.01 234.33a3.26 3.26 0 1 0 6.52 0a3.26 3.26 0 1 0 -6.52 0M788.42 234.75a3.22 3.22 0 1 0 6.45 0a3.22 3.22 0 1 0 -6.45 0M788.89 235.25a3.19 3.19 0 1 0 6.38 0a3.19 3.19 0 1 0 -6.38 0M789.41 235.81a3.15 3.15 0 1 0 6.30 0a3.15 3.15 0 1 0 -6.30 0M789.96 236.43a3.11 3.11 0 1 0 6.22 0a3.11 3.11 0 1 0 -6.22 0M790.50 237.09a3.08 3.08 0 1 0 6.15 0a3.08 3.08 0 1 0 -6.15 0M791.02 237.79a3.04 3.04 0 1 0 6.08 0a3.04 3.04 0 1 0 -6.08 0M791.50 238.50a3.00 3.00 0 1 0 6.00 0a3.00 3.00 0 1 0 -6.00 0M791.87 239.09a2.95 2.95 0 1 0 5.90 0a2.95 2.95 0 1 0 -5.90 0M792.24 239.71a2.90 2.90 0 1 0 5.80 0a2.90 2.90 0 1 0 -5.80 0M792.61 240.35a2.85 2.85 0 1 0 5.70 0a2.85 2.85 0 1 0 -5.70 0M792.97 241.02a2.80 2.80 0 1 0 5.60 0a2.80 2.80 0 1 0 -5.60 0M793.32 241.72a2.75 2.75 0 1 0 5.50 0a2.75 2.75 0 1 0 -5.50 0M793.67 242.44a2.70 2.70 0 1 0 5.40 0a2.70 2.70 0 1 0 -5.40 0M794.02 243.17a2.65 2.65 0 1 0 5.30 0a2.65 2.65 0 1 0 -5.30 0M794.35 243.93a2.60 2.60 0 1 0 5.20 0a2.60 2.60 0 1 0 -5.20 0M794.68 244.71a2.55 2.55 0 1 0 5.10 0a2.55 2.55 0 1 0 -5.10 0M795.00 245.50a2.50 2.50 0 1 0 5.00 0a2.50 2.50 0 1 0 -5.00 0M795.23 246.15a2.48 2.48 0 1 0 4.95 0a2.48 2.48 0 1 0 -4.95 0M795.46 246.86a2.45 2.45 0 1 0 4.91 0a2.45 2.45 0 1 0 -4.91 0M795.69 247.62a2.43 2.43 0 1 0 4.86 0a2.43 2.43 0 1 0 -4.86 0M795.93 248.42a2.41 2.41 0 1 0 4.82 0a2.41 2.41 0 1 0 -4.82 0M796.16 249.23a2.38 2.38 0 1 0 4.77 0a2.38 2.38 0 1 0 -4.77 0M796.38 250.04a2.36 2.36 0 1 0 4.72 0a2.36 2.36 0 1 0 -4.72 0M796.59 250.83a2.34 2.34 0 1 0 4.68 0a2.34 2.34 0 1 0 -4.68 0M796.80 251.60a2.32 2.32 0 1 0 4.63 0a2.32 2.32 0 1 0 -4.63 0M796.99 252.33a2.29 2.29 0 1 0 4.58 0a2.29 2.29 0 1 0 -4.58 0M797.17 253.00a2.27 2.27 0 1 0 4.54 0a2.27 2.27 0 1 0 -4.54 0M797.33 253.59a2.25 2.25 0 1 0 4.49 0a2.25 2.25 0 1 0 -4.49 0M797.48 254.10a2.22 2.22 0 1 0 4.45 0a2.22 2.22 0 1 0 -4.45 0M797.60 254.50a2.20 2.20 0 1 0 4.40 0a2.20 2.20 0 1 0 -4.40 0"/>
<path fill="#9852f4" d="M797.60 254.50a2.20 2.20 0 1 0 4.40 0a2.20 2.20 0 1 0 -4.40 0M797.76 254.11a2.21 2.21 0 1 0 4.42 0a2.21 2.21 0 1 0 -4.42 0M797.95 253.62a2.22 2.22 0 1 0 4.43 0a2.22 2.22 0 1 0 -4.43 0M798.17 253.04a2.23 2.23 0 1 0 4.45 0a2.23 2.23 0 1 0 -4.45 0M798.42 252.39a2.23 2.23 0 1 0 4.47 0a2.23 2.23 0 1 0 -4.47 0M798.70 251.68a2.24 2.24 0 1 0 4.48 0a2.24 2.24 0 1 0 -4.48 0M798.99 250.94a2.25 2.25 0 1 0 4.50 0a2.25 2.25 0 1 0 -4.50 0M799.31 250.17a2.26 2.26 0 1 0 4.52 0a2.26 2.26 0 1 0 -4.52 0M799.66 249.39a2.27 2.27 0 1 0 4.53 0a2.27 2.27 0 1 0 -4.53 0M800.02 248.62a2.27 2.27 0 1 0 4.55 0a2.27 2.27 0 1 0 -4.55 0M800.40 247.87a2.28 2.28 0 1 0 4.57 0a2.28 2.28 0 1 0 -4.57 0M800.79 247.16a2.29 2.29 0 1 0 4.58 0a2.29 2.29 0 1 0 -4.58 0M801.20 246.50a2.30 2.30 0 1 0 4.60 0a2.30 2.30 0 1 0 -4.60 0M801.57 245.92a2.34 2.34 0 1 0 4.68 0a2.34 2.34 0 1 0 -4.68 0M801.96 245.35a2.38 2.38 0 1 0 4.75 0a2.38 2.38 0 1 0 -4.75 0M802.37 244.78a2.42 2.42 0 1 0 4.83 0a2.42 2.42 0 1 0 -4.83 0M802.81 244.21a2.45 2.45 0 1 0 4.91 0a2.45 2.45 0 1 0 -4.91 0M803.26 243.64a2.49 2.49 0 1 0 4.98 0a2.49 2.49 0 1 0 -4.98 0M803.72 243.09a2.53 2.53 0 1 0 5.06 0a2.53 2.53 0 1 0 -5.06 0M804.20 242.54a2.57 2.57 0 1 0 5.14 0a2.57 2.57 0 1 0 -5.14 0M804.69 242.00a2.61 2.61 0 1 0 5.22 0a2.61 2.61 0 1 0 -5.22 0M805.19 241.47a2.65 2.65 0 1 0 5.29 0a2.65 2.65 0 1 0 -5.29 0M805.69 240.96a2.68 2.68 0 1 0 5.37 0a2.68 2.68 0 1 0 -5.37 0M806.19 240.46a2.72 2.72 0 1 0 5.45 0a2.72 2.72 0 1 0 -5.45 0M806.70 239.97a2.76 2.76 0 1 0 5.52 0a2.76 2.76 0 1 0 -5.52 0M807.20 239.50a2.80 2.80 0 1 0 5.60 0a2.80 2.80 0 1 0 -5.60 0M807.76 239.00a2.85 2.85 0 1 0 5.70 0a2.85 2.85 0 1 0 -5.70 0M808.38 238.49a2.90 2.90 0 1 0 5.80 0a2.90 2.90 0 1 0 -5.80 0M809.03 237.99a2.95 2.95 0 1 0 5.90 0a2.95 2.95 0 1 0 -5.90 0M809.70 237.50a3.00 3.00 0 1 0 6.00 0a3.00 3.00 0 1 0 -6.00 0M810.38 237.02a3.05 3.05 0 1 0 6.10 0a3.05 3.05 0 1 0 -6.10 0M811.06 236.56a3.10 3.10 0 1 0 6.20 0a3.10 3.10 0 1 0 -6.20 0M811.71 236.13a3.15 3.15 0 1 0 6.30 0a3.15 3.15 0 1 0 -6.30 0M812.32 235.72a3.20 3.20 0 1 0 6.40 0a3.20 3.20 0 1 0 -6.40 0M812.88 235.35a3.25 3.25 0 1 0 6.50 0a3.25 3.25 0 1 0 -6.50 0M813.37 235.02a3.30 3.30 0 1 0 6.60 0a3.30 3.30 0 1 0 -6.60 0M813.78 234.74a3.35 3.35 0 1 0 6.70 0a3.35 3.35 0 1 0 -6.70 0M814.10 234.50a3.40 3.40 0 1 0 6.80 0a3.40 3.40 0 1 0 -6.80 0"/>
<path fill="#9852f4" d="M946.40 70.30a2.90 2.90 0 1 0 5.80 0a2.90 2.90 0 1 0 -5.80 0M946.10 70.60a2.89 2.89 0 1 0 5.78 0a2.89 2.89 0 1 0 -5.78 0M945.70 70.97a2.88 2.88 0 1 0 5.76 0a2.88 2.88 0 1 0 -5.76 0M945.22 71.42a2.87 2.87 0 1 0 5.73 0a2.87 2.87 0 1 0 -5.73 0M944.69 71.93a2.86 2.86 0 1 0 5.71 0a2.86 2.86 0 1 0 -5.71 0M944.12 72.47a2.84 2.84 0 1 0 5.69 0a2.84 2.84 0 1 0 -5.69 0M943.54 73.04a2.83 2.83 0 1 0 5.67 0a2.83 2.83 0 1 0 -5.67 0M942.98 73.63a2.82 2.82 0 1 0 5.64 0a2.82 2.82 0 1 0 -5.64 0M942.46 74.22a2.81 2.81 0 1 0 5.62 0a2.81 2.81 0 1 0 -5.62 0M942.00 74.80a2.80 2.80 0 1 0 5.60 0a2.80 2.80 0 1 0 -5.60 0M941.58 75.39a2.79 2.79 0 1 0 5.58 0a2.79 2.79 0 1 0 -5.58 0M941.18 76.01a2.78 2.78 0 1 0 5.56 0a2.78 2.78 0 1 0 -5.56 0M940.79 76.66a2.77 2.77 0 1 0 5.53 0a2.77 2.77 0 1 0 -5.53 0M940.41 77.33a2.76 2.76 0 1 0 5.51 0a2.76 2.76 0 1 0 -5.51 0M940.05 78.00a2.74 2.74 0 1 0 5.49 0a2.74 2.74 0 1 0 -5.49 0M939.70 78.66a2.73 2.73 0 1 0 5.47 0a2.73 2.73 0 1 0 -5.47 0M939.38 79.30a2.72 2.72 0 1 0 5.44 0a2.72 2.72 0 1 0 -5.44 0M939.08 79.92a2.71 2.71 0 1 0 5.42 0a2.71 2.71 0 1 0 -5.42 0M938.80 80.50a2.70 2.70 0 1 0 5.40 0a2.70 2.70 0 1 0 -5.40 0M938.46 81.30a2.70 2.70 0 1 0 5.40 0a2.70 2.70 0 1 0 -5.40 0M938.23 82.06a2.70 2.70 0 1 0 5.40 0a2.70 2.70 0 1 0 -5.40 0M938.04 82.77a2.70 2.70 0 1 0 5.40 0a2.70 2.70 0 1 0 -5.40 0M937.84 83.46a2.70 2.70 0 1 0 5.40 0a2.70 2.70 0 1 0 -5.40 0M937.54 84.13a2.70 2.70 0 1 0 5.40 0a2.70 2.70 0 1 0 -5.40 0M937.10 84.80a2.70 2.70 0 1 0 5.40 0a2.70 2.70 0 1 0 -5.40 0M936.66 85.28a2.70 2.70 0 1 0 5.40 0a2.70 2.70 0 1 0 -5.40 0M936.17 85.71a2.70 2.70 0 1 0 5.40 0a2.70 2.70 0 1 0 -5.40 0M935.62 86.13a2.70 2.70 0 1 0 5.40 0a2.70 2.70 0 1 0 -5.40 0M935.03 86.54a2.70 2.70 0 1 0 5.40 0a2.70 2.70 0 1 0 -5.40 0M934.40 86.97a2.70 2.70 0 1 0 5.40 0a2.70 2.70 0 1 0 -5.40 0M933.73 87.43a2.70 2.70 0 1 0 5.40 0a2.70 2.70 0 1 0 -5.40 0M933.03 87.93a2.70 2.70 0 1 0 5.40 0a2.70 2.70 0 1 0 -5.40 0M932.30 88.50a2.70 2.70 0 1 0 5.40 0a2.70 2.70 0 1 0 -5.40 0M931.82 88.88a2.71 2.71 0 1 0 5.42 0a2.71 2.71 0 1 0 -5.42 0M931.31 89.28a2.72 2.72 0 1 0 5.43 0a2.72 2.72 0 1 0 -5.43 0M930.78 89.70a2.72 2.72 0 1 0 5.45 0a2.72 2.72 0 1 0 -5.45 0M930.23 90.13a2.73 2.73 0 1 0 5.46 0a2.73 2.73 0 1 0 -5.46 0M929.66 90.57a2.74 2.74 0 1 0 5.48 0a2.74 2.74 0 1 0 -5.48 0M929.08 91.03a2.75 2.75 0 1 0 5.49 0a2.75 2.75 0 1 0 -5.49 0M928.50 91.50a2.75 2.75 0 1 0 5.51 0a2.75 2.75 0 1 0 -5.51 0M927.92 91.98a2.76 2.76 0 1 0 5.52 0a2.76 2.76 0 1 0 -5.52 0M927.35 92.47a2.77 2.77 0 1 0 5.54 0a2.77 2.77 0 1 0 -5.54 0M926.78 92.97a2.78 2.78 0 1 0 5.55 0a2.78 2.78 0 1 0 -5.55 0M926.23 93.47a2.78 2.78 0 1 0 5.57 0a2.78 2.78 0 1 0 -5.57 0M925.70 93.98a2.79 2.79 0 1 0 5.58 0a2.79 2.79 0 1 0 -5.58 0M925.20 94.50a2.80 2.80 0 1 0 5.60 0a2.80 2.80 0 1 0 -5.60 0M924.71 95.05a2.81 2.81 0 1 0 5.62 0a2.81 2.81 0 1 0 -5.62 0M924.20 95.65a2.82 2.82 0 1 0 5.63 0a2.82 2.82 0 1 0 -5.63 0M923.69 96.28a2.82 2.82 0 1 0 5.65 0a2.82 2.82 0 1 0 -5.65 0M923.19 96.94a2.83 2.83 0 1 0 5.66 0a2.83 2.83 0 1 0 -5.66 0M922.69 97.62a2.84 2.84 0 1 0 5.68 0a2.84 2.84 0 1 0 -5.68 0M922.20 98.29a2.85 2.85 0 1 0 5.69 0a2.85 2.85 0 1 0 -5.69 0M921.73 98.95a2.85 2.85 0 1 0 5.71 0a2.85 2.85 0 1 0 -5.71 0M921.29 99.59a2.86 2.86 0 1 0 5.72 0a2.86 2.86 0 1 0 -5.72 0M920.87 100.20a2.87 2.87 0 1 0 5.74 0a2.87 2.87 0 1 0 -5.74 0M920.49 100.75a2.88 2.88 0 1 0 5.75 0a2.88 2.88 0 1 0 -5.75 0M920.14 101.24a2.88 2.88 0 1 0 5.77 0a2.88 2.88 0 1 0 -5.77 0M919.85 101.66a2.89 2.89 0 1 0 5.78 0a2.89 2.89 0 1 0 -5.78 0M919.60 102.00a2.90 2.90 0 1 0 5.80 0a2.90 2.90 0 1 0 -5.80 0"/>
<path fill="#e31718" d="M954.50 81.80a2.70 2.70 0 1 0 5.40 0a2.70 2.70 0 1 0 -5.40 0M954.18 82.12a2.69 2.69 0 1 0 5.38 0a2.69 2.69 0 1 0 -5.38 0M953.73 82.54a2.68 2.68 0 1 0 5.35 0a2.68 2.68 0 1 0 -5.35 0M953.20 83.03a2.66 2.66 0 1 0 5.33 0a2.66 2.66 0 1 0 -5.33 0M952.61 83.59a2.65 2.65 0 1 0 5.30 0a2.65 2.65 0 1 0 -5.30 0M952.00 84.18a2.64 2.64 0 1 0 5.28 0a2.64 2.64 0 1 0 -5.28 0M951.40 84.80a2.62 2.62 0 1 0 5.25 0a2.62 2.62 0 1 0 -5.25 0M950.86 85.41a2.61 2.61 0 1 0 5.23 0a2.61 2.61 0 1 0 -5.23 0M950.40 86.00a2.60 2.60 0 1 0 5.20 0a2.60 2.60 0 1 0 -5.20 0M949.94 86.69a2.60 2.60 0 1 0 5.20 0a2.60 2.60 0 1 0 -5.20 0M949.51 87.43a2.60 2.60 0 1 0 5.20 0a2.60 2.60 0 1 0 -5.20 0M949.12 88.20a2.60 2.60 0 1 0 5.20 0a2.60 2.60 0 1 0 -5.20 0M948.76 88.97a2.60 2.60 0 1 0 5.20 0a2.60 2.60 0 1 0 -5.20 0M948.44 89.71a2.60 2.60 0 1 0 5.20 0a2.60 2.60 0 1 0 -5.20 0M948.15 90.39a2.60 2.60 0 1 0 5.20 0a2.60 2.60 0 1 0 -5.20 0M947.90 91.00a2.60 2.60 0 1 0 5.20 0a2.60 2.60 0 1 0 -5.20 0M947.67 91.85a2.60 2.60 0 1 0 5.20 0a2.60 2.60 0 1 0 -5.20 0M947.64 92.51a2.60 2.60 0 1 0 5.20 0a2.60 2.60 0 1 0 -5.20 0M947.53 93.12a2.60 2.60 0 1 0 5.20 0a2.60 2.60 0 1 0 -5.20 0M947.10 93.80a2.60 2.60 0 1 0 5.20 0a2.60 2.60 0 1 0 -5.20 0M946.71 94.17a2.60 2.60 0 1 0 5.20 0a2.60 2.60 0 1 0 -5.20 0M946.24 94.52a2.60 2.60 0 1 0 5.20 0a2.60 2.60 0 1 0 -5.20 0M945.70 94.87a2.60 2.60 0 1 0 5.20 0a2.60 2.60 0 1 0 -5.20 0M945.11 95.23a2.60 2.60 0 1 0 5.20 0a2.60 2.60 0 1 0 -5.20 0M944.47 95.61a2.60 2.60 0 1 0 5.20 0a2.60 2.60 0 1 0 -5.20 0M943.79 96.03a2.60 2.60 0 1 0 5.20 0a2.60 2.60 0 1 0 -5.20 0M943.10 96.49a2.60 2.60 0 1 0 5.20 0a2.60 2.60 0 1 0 -5.20 0M942.40 97.00a2.60 2.60 0 1 0 5.20 0a2.60 2.60 0 1 0 -5.20 0M941.91 97.37a2.61 2.61 0 1 0 5.22 0a2.61 2.61 0 1 0 -5.22 0M941.39 97.76a2.62 2.62 0 1 0 5.23 0a2.62 2.62 0 1 0 -5.23 0M940.84 98.17a2.62 2.62 0 1 0 5.25 0a2.62 2.62 0 1 0 -5.25 0M940.28 98.60a2.63 2.63 0 1 0 5.27 0a2.63 2.63 0 1 0 -5.27 0M939.70 99.04a2.64 2.64 0 1 0 5.28 0a2.64 2.64 0 1 0 -5.28 0M939.12 99.49a2.65 2.65 0 1 0 5.30 0a2.65 2.65 0 1 0 -5.30 0M938.53 99.96a2.66 2.66 0 1 0 5.32 0a2.66 2.66 0 1 0 -5.32 0M937.96 100.45a2.67 2.67 0 1 0 5.33 0a2.67 2.67 0 1 0 -5.33 0M937.39 100.94a2.68 2.68 0 1 0 5.35 0a2.68 2.68 0 1 0 -5.35 0M936.83 101.45a2.68 2.68 0 1 0 5.37 0a2.68 2.68 0 1 0 -5.37 0M936.30 101.97a2.69 2.69 0 1 0 5.38 0a2.69 2.69 0 1 0 -5.38 0M935.80 102.50a2.70 2.70 0 1 0 5.40 0a2.70 2.70 0 1 0 -5.40 0M935.31 103.07a2.71 2.71 0 1 0 5.42 0a2.71 2.71 0 1 0 -5.42 0M934.81 103.70a2.72 2.72 0 1 0 5.43 0a2.72 2.72 0 1 0 -5.43 0M934.30 104.37a2.73 2.73 0 1 0 5.45 0a2.73 2.73 0 1 0 -5.45 0M933.80 105.07a2.73 2.73 0 1 0 5.47 0a2.73 2.73 0 1 0 -5.47 0M933.32 105.78a2.74 2.74 0 1 0 5.48 0a2.74 2.74 0 1 0 -5.48 0M932.84 106.49a2.75 2.75 0 1 0 5.50 0a2.75 2.75 0 1 0 -5.50 0M932.39 107.18a2.76 2.76 0 1 0 5.52 0a2.76 2.76 0 1 0 -5.52 0M931.97 107.84a2.77 2.77 0 1 0 5.53 0a2.77 2.77 0 1 0 -5.53 0M931.59 108.45a2.77 2.77 0 1 0 5.55 0a2.77 2.77 0 1 0 -5.55 0M931.24 108.98a2.78 2.78 0 1 0 5.57 0a2.78 2.78 0 1 0 -5.57 0M930.95 109.44a2.79 2.79 0 1 0 5.58 0a2.79 2.79 0 1 0 -5.58 0M930.70 109.80a2.80 2.80 0 1 0 5.60 0a2.80 2.80 0 1 0 -5.60 0"/>
<path fill="#9852f4" d="M919.10 288.50a2.90 2.90 0 1 0 5.80 0a2.90 2.90 0 1 0 -5.80 0M919.40 288.83a2.89 2.89 0 1 0 5.78 0a2.89 2.89 0 1 0 -5.78 0M919.78 289.26a2.88 2.88 0 1 0 5.76 0a2.88 2.88 0 1 0 -5.76 0M920.23 289.76a2.87 2.87 0 1 0 5.74 0a2.87 2.87 0 1 0 -5.74 0M920.73 290.33a2.86 2.86 0 1 0 5.72 0a2.86 2.86 0 1 0 -5.72 0M921.27 290.94a2.85 2.85 0 1 0 5.70 0a2.85 2.85 0 1 0 -5.70 0M921.85 291.57a2.84 2.84 0 1 0 5.68 0a2.84 2.84 0 1 0 -5.68 0M922.44 292.21a2.83 2.83 0 1 0 5.66 0a2.83 2.83 0 1 0 -5.66 0M923.04 292.84a2.82 2.82 0 1 0 5.64 0a2.82 2.82 0 1 0 -5.64 0M923.63 293.45a2.81 2.81 0 1 0 5.62 0a2.81 2.81 0 1 0 -5.62 0M924.20 294.00a2.80 2.80 0 1 0 5.60 0a2.80 2.80 0 1 0 -5.60 0M924.73 294.48a2.79 2.79 0 1 0 5.58 0a2.79 2.79 0 1 0 -5.58 0M925.30 294.96a2.78 2.78 0 1 0 5.56 0a2.78 2.78 0 1 0 -5.56 0M925.89 295.44a2.77 2.77 0 1 0 5.55 0a2.77 2.77 0 1 0 -5.55 0M926.50 295.92a2.76 2.76 0 1 0 5.53 0a2.76 2.76 0 1 0 -5.53 0M927.12 296.39a2.75 2.75 0 1 0 5.51 0a2.75 2.75 0 1 0 -5.51 0M927.73 296.86a2.75 2.75 0 1 0 5.49 0a2.75 2.75 0 1 0 -5.49 0M928.32 297.31a2.74 2.74 0 1 0 5.47 0a2.74 2.74 0 1 0 -5.47 0M928.88 297.76a2.73 2.73 0 1 0 5.45 0a2.73 2.73 0 1 0 -5.45 0M929.41 298.19a2.72 2.72 0 1 0 5.44 0a2.72 2.72 0 1 0 -5.44 0M929.88 298.60a2.71 2.71 0 1 0 5.42 0a2.71 2.71 0 1 0 -5.42 0M930.30 299.00a2.70 2.70 0 1 0 5.40 0a2.70 2.70 0 1 0 -5.40 0M930.97 299.76a2.70 2.70 0 1 0 5.40 0a2.70 2.70 0 1 0 -5.40 0M931.42 300.39a2.70 2.70 0 1 0 5.40 0a2.70 2.70 0 1 0 -5.40 0M931.76 300.99a2.70 2.70 0 1 0 5.40 0a2.70 2.70 0 1 0 -5.40 0M932.08 301.66a2.70 2.70 0 1 0 5.40 0a2.70 2.70 0 1 0 -5.40 0M932.50 302.50a2.70 2.70 0 1 0 5.40 0a2.70 2.70 0 1 0 -5.40 0M932.77 303.05a2.71 2.71 0 1 0 5.42 0a2.71 2.71 0 1 0 -5.42 0M933.04 303.65a2.72 2.72 0 1 0 5.44 0a2.72 2.72 0 1 0 -5.44 0M933.31 304.28a2.73 2.73 0 1 0 5.47 0a2.73 2.73 0 1 0 -5.47 0M933.59 304.94a2.74 2.74 0 1 0 5.49 0a2.74 2.74 0 1 0 -5.49 0M933.88 305.63a2.76 2.76 0 1 0 5.51 0a2.76 2.76 0 1 0 -5.51 0M934.19 306.33a2.77 2.77 0 1 0 5.53 0a2.77 2.77 0 1 0 -5.53 0M934.51 307.05a2.78 2.78 0 1 0 5.56 0a2.78 2.78 0 1 0 -5.56 0M934.84 307.78a2.79 2.79 0 1 0 5.58 0a2.79 2.79 0 1 0 -5.58 0M935.20 308.50a2.80 2.80 0 1 0 5.60 0a2.80 2.80 0 1 0 -5.60 0M935.51 309.10a2.81 2.81 0 1 0 5.62 0a2.81 2.81 0 1 0 -5.62 0M935.84 309.71a2.82 2.82 0 1 0 5.64 0a2.82 2.82 0 1 0 -5.64 0M936.18 310.34a2.83 2.83 0 1 0 5.65 0a2.83 2.83 0 1 0 -5.65 0M936.53 310.97a2.84 2.84 0 1 0 5.67 0a2.84 2.84 0 1 0 -5.67 0M936.89 311.61a2.85 2.85 0 1 0 5.69 0a2.85 2.85 0 1 0 -5.69 0M937.26 312.26a2.85 2.85 0 1 0 5.71 0a2.85 2.85 0 1 0 -5.71 0M937.63 312.91a2.86 2.86 0 1 0 5.73 0a2.86 2.86 0 1 0 -5.73 0M938.00 313.56a2.87 2.87 0 1 0 5.75 0a2.87 2.87 0 1 0 -5.75 0M938.37 314.21a2.88 2.88 0 1 0 5.76 0a2.88 2.88 0 1 0 -5.76 0M938.74 314.86a2.89 2.89 0 1 0 5.78 0a2.89 2.89 0 1 0 -5.78 0M939.10 315.50a2.90 2.90 0 1 0 5.80 0a2.90 2.90 0 1 0 -5.80 0M939.47 316.16a2.91 2.91 0 1 0 5.82 0a2.91 2.91 0 1 0 -5.82 0M939.86 316.87a2.92 2.92 0 1 0 5.84 0a2.92 2.92 0 1 0 -5.84 0M940.27 317.60a2.93 2.93 0 1 0 5.85 0a2.93 2.93 0 1 0 -5.85 0M940.69 318.34a2.94 2.94 0 1 0 5.87 0a2.94 2.94 0 1 0 -5.87 0M941.10 319.08a2.95 2.95 0 1 0 5.89 0a2.95 2.95 0 1 0 -5.89 0M941.50 319.79a2.95 2.95 0 1 0 5.91 0a2.95 2.95 0 1 0 -5.91 0M941.88 320.47a2.96 2.96 0 1 0 5.93 0a2.96 2.96 0 1 0 -5.93 0M942.22 321.10a2.97 2.97 0 1 0 5.95 0a2.97 2.97 0 1 0 -5.95 0M942.53 321.65a2.98 2.98 0 1 0 5.96 0a2.98 2.98 0 1 0 -5.96 0M942.80 322.13a2.99 2.99 0 1 0 5.98 0a2.99 2.99 0 1 0 -5.98 0M943.00 322.50a3.00 3.00 0 1 0 6.00 0a3.00 3.00 0 1 0 -6.00 0"/>
<path fill="#e31718" d="M932.30 283.80a2.70 2.70 0 1 0 5.40 0a2.70 2.70 0 1 0 -5.40 0M932.61 284.12a2.69 2.69 0 1 0 5.38 0a2.69 2.69 0 1 0 -5.38 0M933.00 284.53a2.68 2.68 0 1 0 5.36 0a2.68 2.68 0 1 0 -5.36 0M933.46 285.03a2.67 2.67 0 1 0 5.33 0a2.67 2.67 0 1 0 -5.33 0M933.98 285.58a2.66 2.66 0 1 0 5.31 0a2.66 2.66 0 1 0 -5.31 0M934.54 286.17a2.64 2.64 0 1 0 5.29 0a2.64 2.64 0 1 0 -5.29 0M935.13 286.77a2.63 2.63 0 1 0 5.27 0a2.63 2.63 0 1 0 -5.27 0M935.72 287.38a2.62 2.62 0 1 0 5.24 0a2.62 2.62 0 1 0 -5.24 0M936.32 287.96a2.61 2.61 0 1 0 5.22 0a2.61 2.61 0 1 0 -5.22 0M936.90 288.50a2.60 2.60 0 1 0 5.20 0a2.60 2.60 0 1 0 -5.20 0M937.43 288.96a2.60 2.60 0 1 0 5.20 0a2.60 2.60 0 1 0 -5.20 0M937.99 289.44a2.60 2.60 0 1 0 5.20 0a2.60 2.60 0 1 0 -5.20 0M938.59 289.91a2.60 2.60 0 1 0 5.20 0a2.60 2.60 0 1 0 -5.20 0M939.20 290.39a2.60 2.60 0 1 0 5.20 0a2.60 2.60 0 1 0 -5.20 0M939.81 290.86a2.60 2.60 0 1 0 5.20 0a2.60 2.60 0 1 0 -5.20 0M940.40 291.32a2.60 2.60 0 1 0 5.20 0a2.60 2.60 0 1 0 -5.20 0M940.98 291.77a2.60 2.60 0 1 0 5.20 0a2.60 2.60 0 1 0 -5.20 0M941.51 292.20a2.60 2.60 0 1 0 5.20 0a2.60 2.60 0 1 0 -5.20 0M941.99 292.61a2.60 2.60 0 1 0 5.20 0a2.60 2.60 0 1 0 -5.20 0M942.40 293.00a2.60 2.60 0 1 0 5.20 0a2.60 2.60 0 1 0 -5.20 0M943.02 293.65a2.60 2.60 0 1 0 5.20 0a2.60 2.60 0 1 0 -5.20 0M943.45 294.16a2.60 2.60 0 1 0 5.20 0a2.60 2.60 0 1 0 -5.20 0M943.77 294.66a2.60 2.60 0 1 0 5.20 0a2.60 2.60 0 1 0 -5.20 0M944.06 295.23a2.60 2.60 0 1 0 5.20 0a2.60 2.60 0 1 0 -5.20 0M944.40 296.00a2.60 2.60 0 1 0 5.20 0a2.60 2.60 0 1 0 -5.20 0M944.61 296.53a2.60 2.60 0 1 0 5.20 0a2.60 2.60 0 1 0 -5.20 0M944.82 297.12a2.60 2.60 0 1 0 5.20 0a2.60 2.60 0 1 0 -5.20 0M945.01 297.76a2.60 2.60 0 1 0 5.20 0a2.60 2.60 0 1 0 -5.20 0M945.21 298.43a2.60 2.60 0 1 0 5.20 0a2.60 2.60 0 1 0 -5.20 0M945.41 299.13a2.60 2.60 0 1 0 5.20 0a2.60 2.60 0 1 0 -5.20 0M945.62 299.85a2.60 2.60 0 1 0 5.20 0a2.60 2.60 0 1 0 -5.20 0M945.85 300.58a2.60 2.60 0 1 0 5.20 0a2.60 2.60 0 1 0 -5.20 0M946.11 301.29a2.60 2.60 0 1 0 5.20 0a2.60 2.60 0 1 0 -5.20 0M946.40 302.00a2.60 2.60 0 1 0 5.20 0a2.60 2.60 0 1 0 -5.20 0M946.68 302.63a2.61 2.61 0 1 0 5.22 0a2.61 2.61 0 1 0 -5.22 0M946.98 303.28a2.62 2.62 0 1 0 5.24 0a2.62 2.62 0 1 0 -5.24 0M947.31 303.94a2.63 2.63 0 1 0 5.26 0a2.63 2.63 0 1 0 -5.26 0M947.65 304.61a2.64 2.64 0 1 0 5.28 0a2.64 2.64 0 1 0 -5.28 0M948.01 305.28a2.65 2.65 0 1 0 5.30 0a2.65 2.65 0 1 0 -5.30 0M948.37 305.95a2.66 2.66 0 1 0 5.32 0a2.66 2.66 0 1 0 -5.32 0M948.73 306.61a2.67 2.67 0 1 0 5.34 0a2.67 2.67 0 1 0 -5.34 0M949.10 307.26a2.68 2.68 0 1 0 5.36 0a2.68 2.68 0 1 0 -5.36 0M949.45 307.89a2.69 2.69 0 1 0 5.38 0a2.69 2.69 0 1 0 -5.38 0M949.80 308.50a2.70 2.70 0 1 0 5.40 0a2.70 2.70 0 1 0 -5.40 0M950.20 309.19a2.71 2.71 0 1 0 5.42 0a2.71 2.71 0 1 0 -5.42 0M950.62 309.90a2.72 2.72 0 1 0 5.44 0a2.72 2.72 0 1 0 -5.44 0M951.06 310.61a2.73 2.73 0 1 0 5.47 0a2.73 2.73 0 1 0 -5.47 0M951.50 311.31a2.74 2.74 0 1 0 5.49 0a2.74 2.74 0 1 0 -5.49 0M951.93 311.99a2.76 2.76 0 1 0 5.51 0a2.76 2.76 0 1 0 -5.51 0M952.33 312.61a2.77 2.77 0 1 0 5.53 0a2.77 2.77 0 1 0 -5.53 0M952.68 313.17a2.78 2.78 0 1 0 5.56 0a2.78 2.78 0 1 0 -5.56 0M952.98 313.64a2.79 2.79 0 1 0 5.58 0a2.79 2.79 0 1 0 -5.58 0M953.20 314.00a2.80 2.80 0 1 0 5.60 0a2.80 2.80 0 1 0 -5.60 0"/>

<line x1="358.75" y1="196.4" x2="479" y2="196.4" stroke="#5a5a5a" stroke-width="1.05" stroke-dasharray="3.5 3.1"/>
<line x1="735.5" y1="196.25" x2="808" y2="196.25" stroke="url(#gd)" stroke-width="1.5" stroke-dasharray="4.3 4.11"/>

<!-- footer -->
<rect x="0" y="352" width="1000" height="80" fill="#000"/>
<text x="27" y="403.5" font-family="'Liberation Sans', sans-serif" font-size="35" letter-spacing="0.58" fill="#fff" stroke="#fff" stroke-width="0.45">VectorStock</text>
<text transform="translate(668 0) scale(1.05 1)" x="0" y="402.7" font-family="'Liberation Sans', sans-serif" font-size="23" letter-spacing="0.38" fill="#fff" stroke="#fff" stroke-width="0.25">VectorStock.com/46860344</text>
</svg>
</body></html>
